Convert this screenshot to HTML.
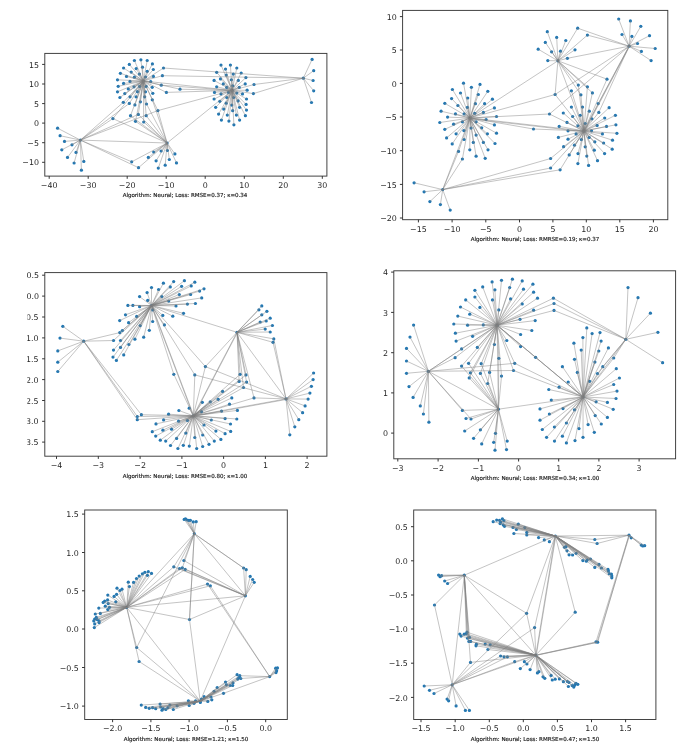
<!DOCTYPE html>
<html><head><meta charset="utf-8"><title>Graph layouts</title>
<style>html,body{margin:0;padding:0;background:#fff}body{width:685px;height:755px;overflow:hidden}</style></head>
<body>
<svg width="685" height="755" viewBox="0 0 685 755" style="display:block;font-family:'DejaVu Sans','Liberation Sans',sans-serif">
<rect width="685" height="755" fill="#fff"/>
<g id="p1">
<clipPath id="cp1"><rect x="44.8" y="53.4" width="282.10" height="122.70"/></clipPath>
<g clip-path="url(#cp1)">
<circle cx="134.4" cy="60.5" r="1.6" fill="#1f77b4"/>
<circle cx="140.9" cy="59.8" r="1.6" fill="#1f77b4"/>
<circle cx="147.2" cy="60.5" r="1.6" fill="#1f77b4"/>
<circle cx="152.4" cy="63.9" r="1.6" fill="#1f77b4"/>
<circle cx="129.3" cy="64.4" r="1.6" fill="#1f77b4"/>
<circle cx="123.6" cy="68.0" r="1.6" fill="#1f77b4"/>
<circle cx="120.4" cy="73.3" r="1.6" fill="#1f77b4"/>
<circle cx="117.5" cy="79.8" r="1.6" fill="#1f77b4"/>
<circle cx="118.2" cy="86.3" r="1.6" fill="#1f77b4"/>
<circle cx="117.5" cy="91.8" r="1.6" fill="#1f77b4"/>
<circle cx="119.9" cy="97.5" r="1.6" fill="#1f77b4"/>
<circle cx="123.3" cy="102.3" r="1.6" fill="#1f77b4"/>
<circle cx="129.3" cy="103.4" r="1.6" fill="#1f77b4"/>
<circle cx="134.9" cy="104.9" r="1.6" fill="#1f77b4"/>
<circle cx="140.4" cy="101.8" r="1.6" fill="#1f77b4"/>
<circle cx="146.5" cy="104.0" r="1.6" fill="#1f77b4"/>
<circle cx="152.3" cy="99.8" r="1.6" fill="#1f77b4"/>
<circle cx="152.8" cy="93.3" r="1.6" fill="#1f77b4"/>
<circle cx="152.2" cy="87.3" r="1.6" fill="#1f77b4"/>
<circle cx="150.7" cy="81.6" r="1.6" fill="#1f77b4"/>
<circle cx="153.4" cy="76.4" r="1.6" fill="#1f77b4"/>
<circle cx="153.3" cy="69.5" r="1.6" fill="#1f77b4"/>
<circle cx="136.2" cy="68.6" r="1.6" fill="#1f77b4"/>
<circle cx="142.5" cy="67.2" r="1.6" fill="#1f77b4"/>
<circle cx="147.2" cy="71.3" r="1.6" fill="#1f77b4"/>
<circle cx="131.2" cy="72.1" r="1.6" fill="#1f77b4"/>
<circle cx="126.5" cy="76.4" r="1.6" fill="#1f77b4"/>
<circle cx="123.6" cy="83.4" r="1.6" fill="#1f77b4"/>
<circle cx="128.3" cy="88.9" r="1.6" fill="#1f77b4"/>
<circle cx="124.8" cy="93.6" r="1.6" fill="#1f77b4"/>
<circle cx="130.0" cy="96.8" r="1.6" fill="#1f77b4"/>
<circle cx="136.1" cy="96.8" r="1.6" fill="#1f77b4"/>
<circle cx="144.7" cy="96.8" r="1.6" fill="#1f77b4"/>
<circle cx="145.5" cy="91.8" r="1.6" fill="#1f77b4"/>
<circle cx="137.4" cy="91.7" r="1.6" fill="#1f77b4"/>
<circle cx="134.0" cy="86.8" r="1.6" fill="#1f77b4"/>
<circle cx="130.0" cy="81.4" r="1.6" fill="#1f77b4"/>
<circle cx="134.4" cy="77.2" r="1.6" fill="#1f77b4"/>
<circle cx="139.5" cy="74.1" r="1.6" fill="#1f77b4"/>
<circle cx="145.5" cy="77.0" r="1.6" fill="#1f77b4"/>
<circle cx="146.2" cy="86.4" r="1.6" fill="#1f77b4"/>
<circle cx="139.6" cy="86.4" r="1.6" fill="#1f77b4"/>
<circle cx="163.5" cy="68.0" r="1.6" fill="#1f77b4"/>
<circle cx="162.4" cy="75.7" r="1.6" fill="#1f77b4"/>
<circle cx="161.3" cy="85.2" r="1.6" fill="#1f77b4"/>
<circle cx="166.4" cy="92.4" r="1.6" fill="#1f77b4"/>
<circle cx="180.0" cy="89.2" r="1.6" fill="#1f77b4"/>
<circle cx="157.9" cy="110.6" r="1.6" fill="#1f77b4"/>
<circle cx="221.0" cy="65.1" r="1.6" fill="#1f77b4"/>
<circle cx="230.4" cy="65.1" r="1.6" fill="#1f77b4"/>
<circle cx="236.8" cy="68.0" r="1.6" fill="#1f77b4"/>
<circle cx="225.5" cy="69.1" r="1.6" fill="#1f77b4"/>
<circle cx="216.7" cy="72.3" r="1.6" fill="#1f77b4"/>
<circle cx="241.2" cy="73.0" r="1.6" fill="#1f77b4"/>
<circle cx="233.3" cy="74.1" r="1.6" fill="#1f77b4"/>
<circle cx="226.2" cy="75.1" r="1.6" fill="#1f77b4"/>
<circle cx="245.9" cy="77.6" r="1.6" fill="#1f77b4"/>
<circle cx="220.5" cy="78.9" r="1.6" fill="#1f77b4"/>
<circle cx="214.1" cy="80.4" r="1.6" fill="#1f77b4"/>
<circle cx="231.4" cy="79.8" r="1.6" fill="#1f77b4"/>
<circle cx="238.3" cy="80.4" r="1.6" fill="#1f77b4"/>
<circle cx="223.3" cy="83.9" r="1.6" fill="#1f77b4"/>
<circle cx="245.2" cy="83.9" r="1.6" fill="#1f77b4"/>
<circle cx="232.7" cy="85.8" r="1.6" fill="#1f77b4"/>
<circle cx="216.7" cy="86.8" r="1.6" fill="#1f77b4"/>
<circle cx="226.7" cy="87.4" r="1.6" fill="#1f77b4"/>
<circle cx="239.2" cy="87.4" r="1.6" fill="#1f77b4"/>
<circle cx="247.1" cy="90.2" r="1.6" fill="#1f77b4"/>
<circle cx="214.5" cy="92.4" r="1.6" fill="#1f77b4"/>
<circle cx="221.0" cy="93.9" r="1.6" fill="#1f77b4"/>
<circle cx="228.5" cy="92.4" r="1.6" fill="#1f77b4"/>
<circle cx="236.8" cy="93.1" r="1.6" fill="#1f77b4"/>
<circle cx="242.5" cy="93.9" r="1.6" fill="#1f77b4"/>
<circle cx="254.0" cy="84.5" r="1.6" fill="#1f77b4"/>
<circle cx="253.4" cy="93.6" r="1.6" fill="#1f77b4"/>
<circle cx="214.1" cy="99.0" r="1.6" fill="#1f77b4"/>
<circle cx="226.8" cy="97.5" r="1.6" fill="#1f77b4"/>
<circle cx="233.6" cy="97.5" r="1.6" fill="#1f77b4"/>
<circle cx="246.5" cy="99.0" r="1.6" fill="#1f77b4"/>
<circle cx="219.8" cy="101.3" r="1.6" fill="#1f77b4"/>
<circle cx="238.1" cy="100.9" r="1.6" fill="#1f77b4"/>
<circle cx="246.1" cy="104.4" r="1.6" fill="#1f77b4"/>
<circle cx="226.2" cy="103.2" r="1.6" fill="#1f77b4"/>
<circle cx="231.8" cy="105.1" r="1.6" fill="#1f77b4"/>
<circle cx="215.7" cy="107.3" r="1.6" fill="#1f77b4"/>
<circle cx="239.6" cy="107.3" r="1.6" fill="#1f77b4"/>
<circle cx="223.7" cy="109.1" r="1.6" fill="#1f77b4"/>
<circle cx="232.7" cy="110.7" r="1.6" fill="#1f77b4"/>
<circle cx="246.5" cy="110.1" r="1.6" fill="#1f77b4"/>
<circle cx="218.6" cy="114.1" r="1.6" fill="#1f77b4"/>
<circle cx="227.3" cy="115.1" r="1.6" fill="#1f77b4"/>
<circle cx="236.4" cy="115.1" r="1.6" fill="#1f77b4"/>
<circle cx="245.4" cy="115.7" r="1.6" fill="#1f77b4"/>
<circle cx="221.4" cy="120.1" r="1.6" fill="#1f77b4"/>
<circle cx="228.9" cy="121.1" r="1.6" fill="#1f77b4"/>
<circle cx="239.6" cy="120.1" r="1.6" fill="#1f77b4"/>
<circle cx="233.9" cy="124.8" r="1.6" fill="#1f77b4"/>
<circle cx="312.1" cy="59.4" r="1.6" fill="#1f77b4"/>
<circle cx="313.7" cy="70.7" r="1.6" fill="#1f77b4"/>
<circle cx="313.1" cy="80.5" r="1.6" fill="#1f77b4"/>
<circle cx="313.7" cy="90.8" r="1.6" fill="#1f77b4"/>
<circle cx="311.5" cy="102.5" r="1.6" fill="#1f77b4"/>
<circle cx="57.6" cy="128.2" r="1.6" fill="#1f77b4"/>
<circle cx="60.1" cy="135.7" r="1.6" fill="#1f77b4"/>
<circle cx="64.5" cy="141.4" r="1.6" fill="#1f77b4"/>
<circle cx="72.0" cy="144.8" r="1.6" fill="#1f77b4"/>
<circle cx="61.8" cy="149.8" r="1.6" fill="#1f77b4"/>
<circle cx="76.0" cy="152.4" r="1.6" fill="#1f77b4"/>
<circle cx="67.5" cy="157.4" r="1.6" fill="#1f77b4"/>
<circle cx="74.1" cy="163.0" r="1.6" fill="#1f77b4"/>
<circle cx="83.8" cy="161.4" r="1.6" fill="#1f77b4"/>
<circle cx="81.4" cy="170.2" r="1.6" fill="#1f77b4"/>
<circle cx="112.9" cy="118.6" r="1.6" fill="#1f77b4"/>
<circle cx="138.3" cy="114.4" r="1.6" fill="#1f77b4"/>
<circle cx="130.5" cy="115.7" r="1.6" fill="#1f77b4"/>
<circle cx="146.2" cy="115.7" r="1.6" fill="#1f77b4"/>
<circle cx="135.5" cy="121.3" r="1.6" fill="#1f77b4"/>
<circle cx="143.7" cy="122.0" r="1.6" fill="#1f77b4"/>
<circle cx="153.7" cy="152.0" r="1.6" fill="#1f77b4"/>
<circle cx="161.1" cy="151.0" r="1.6" fill="#1f77b4"/>
<circle cx="167.4" cy="150.5" r="1.6" fill="#1f77b4"/>
<circle cx="174.9" cy="153.9" r="1.6" fill="#1f77b4"/>
<circle cx="148.3" cy="157.4" r="1.6" fill="#1f77b4"/>
<circle cx="156.1" cy="160.8" r="1.6" fill="#1f77b4"/>
<circle cx="169.3" cy="159.5" r="1.6" fill="#1f77b4"/>
<circle cx="176.5" cy="162.9" r="1.6" fill="#1f77b4"/>
<circle cx="165.2" cy="165.2" r="1.6" fill="#1f77b4"/>
<circle cx="158.3" cy="168.1" r="1.6" fill="#1f77b4"/>
<circle cx="131.7" cy="161.8" r="1.6" fill="#1f77b4"/>
<circle cx="138.5" cy="167.7" r="1.6" fill="#1f77b4"/>
<circle cx="143.4" cy="81.0" r="1.6" fill="#1f77b4"/>
<circle cx="232.1" cy="90.4" r="1.6" fill="#1f77b4"/>
<circle cx="303.3" cy="78.2" r="1.6" fill="#1f77b4"/>
<circle cx="80.4" cy="140.1" r="1.6" fill="#1f77b4"/>
<circle cx="167.1" cy="143.0" r="1.6" fill="#1f77b4"/>
<path d="M143.4 81.0L134.4 60.5M143.4 81.0L140.9 59.8M143.4 81.0L147.2 60.5M143.4 81.0L152.4 63.9M143.4 81.0L129.3 64.4M143.4 81.0L123.6 68.0M143.4 81.0L120.4 73.3M143.4 81.0L117.5 79.8M143.4 81.0L118.2 86.3M143.4 81.0L117.5 91.8M143.4 81.0L119.9 97.5M143.4 81.0L123.3 102.3M143.4 81.0L129.3 103.4M143.4 81.0L134.9 104.9M143.4 81.0L140.4 101.8M143.4 81.0L146.5 104.0M143.4 81.0L152.3 99.8M143.4 81.0L152.8 93.3M143.4 81.0L152.2 87.3M143.4 81.0L150.7 81.6M143.4 81.0L153.4 76.4M143.4 81.0L153.3 69.5M143.4 81.0L136.2 68.6M143.4 81.0L142.5 67.2M143.4 81.0L147.2 71.3M143.4 81.0L131.2 72.1M143.4 81.0L126.5 76.4M143.4 81.0L123.6 83.4M143.4 81.0L128.3 88.9M143.4 81.0L124.8 93.6M143.4 81.0L130.0 96.8M143.4 81.0L136.1 96.8M143.4 81.0L144.7 96.8M143.4 81.0L145.5 91.8M143.4 81.0L137.4 91.7M143.4 81.0L134.0 86.8M143.4 81.0L130.0 81.4M143.4 81.0L134.4 77.2M143.4 81.0L139.5 74.1M143.4 81.0L145.5 77.0M143.4 81.0L146.2 86.4M143.4 81.0L139.6 86.4M143.4 81.0L163.5 68.0M303.3 78.2L163.5 68.0M143.4 81.0L162.4 75.7M303.3 78.2L162.4 75.7M143.4 81.0L161.3 85.2M232.1 90.4L161.3 85.2M143.4 81.0L166.4 92.4M232.1 90.4L166.4 92.4M143.4 81.0L180.0 89.2M232.1 90.4L180.0 89.2M143.4 81.0L157.9 110.6M232.1 90.4L157.9 110.6M80.4 140.1L157.9 110.6M167.1 143.0L157.9 110.6M232.1 90.4L221.0 65.1M232.1 90.4L230.4 65.1M232.1 90.4L236.8 68.0M232.1 90.4L225.5 69.1M232.1 90.4L216.7 72.3M232.1 90.4L241.2 73.0M232.1 90.4L233.3 74.1M232.1 90.4L226.2 75.1M232.1 90.4L245.9 77.6M232.1 90.4L220.5 78.9M232.1 90.4L214.1 80.4M232.1 90.4L231.4 79.8M232.1 90.4L238.3 80.4M232.1 90.4L223.3 83.9M232.1 90.4L245.2 83.9M232.1 90.4L232.7 85.8M232.1 90.4L216.7 86.8M232.1 90.4L226.7 87.4M232.1 90.4L239.2 87.4M232.1 90.4L247.1 90.2M232.1 90.4L214.5 92.4M232.1 90.4L221.0 93.9M232.1 90.4L228.5 92.4M232.1 90.4L236.8 93.1M232.1 90.4L242.5 93.9M232.1 90.4L254.0 84.5M303.3 78.2L254.0 84.5M232.1 90.4L253.4 93.6M303.3 78.2L253.4 93.6M232.1 90.4L214.1 99.0M232.1 90.4L226.8 97.5M232.1 90.4L233.6 97.5M232.1 90.4L246.5 99.0M232.1 90.4L219.8 101.3M232.1 90.4L238.1 100.9M232.1 90.4L246.1 104.4M232.1 90.4L226.2 103.2M232.1 90.4L231.8 105.1M232.1 90.4L215.7 107.3M232.1 90.4L239.6 107.3M232.1 90.4L223.7 109.1M232.1 90.4L232.7 110.7M232.1 90.4L246.5 110.1M232.1 90.4L218.6 114.1M232.1 90.4L227.3 115.1M232.1 90.4L236.4 115.1M232.1 90.4L245.4 115.7M232.1 90.4L221.4 120.1M232.1 90.4L228.9 121.1M232.1 90.4L239.6 120.1M232.1 90.4L233.9 124.8M303.3 78.2L312.1 59.4M303.3 78.2L313.7 70.7M303.3 78.2L313.1 80.5M303.3 78.2L313.7 90.8M303.3 78.2L311.5 102.5M80.4 140.1L57.6 128.2M80.4 140.1L60.1 135.7M80.4 140.1L64.5 141.4M80.4 140.1L72.0 144.8M80.4 140.1L61.8 149.8M80.4 140.1L76.0 152.4M80.4 140.1L67.5 157.4M80.4 140.1L74.1 163.0M80.4 140.1L83.8 161.4M80.4 140.1L81.4 170.2M143.4 81.0L112.9 118.6M80.4 140.1L112.9 118.6M167.1 143.0L112.9 118.6M143.4 81.0L138.3 114.4M80.4 140.1L138.3 114.4M167.1 143.0L138.3 114.4M143.4 81.0L130.5 115.7M167.1 143.0L130.5 115.7M143.4 81.0L146.2 115.7M167.1 143.0L146.2 115.7M143.4 81.0L135.5 121.3M167.1 143.0L135.5 121.3M143.4 81.0L143.7 122.0M167.1 143.0L143.7 122.0M167.1 143.0L153.7 152.0M167.1 143.0L161.1 151.0M167.1 143.0L167.4 150.5M167.1 143.0L174.9 153.9M167.1 143.0L148.3 157.4M167.1 143.0L156.1 160.8M167.1 143.0L169.3 159.5M167.1 143.0L176.5 162.9M167.1 143.0L165.2 165.2M167.1 143.0L158.3 168.1M80.4 140.1L131.7 161.8M167.1 143.0L131.7 161.8M80.4 140.1L138.5 167.7M167.1 143.0L138.5 167.7M80.4 140.1L167.1 143.0M167.1 143.0L232.1 90.4M143.4 81.0L232.1 90.4M80.4 140.1L129.3 103.4M80.4 140.1L123.3 102.3M167.1 143.0L146.5 104.0M167.1 143.0L152.3 99.8" fill="none" stroke="#7f7f7f" stroke-width="0.55" stroke-opacity="0.85"/>
</g>
<rect x="44.8" y="53.4" width="282.10" height="122.70" fill="none" stroke="#3a3a3a" stroke-width="0.95"/>
<path d="M49.2 176.1v2.7M88.2 176.1v2.7M127.2 176.1v2.7M166.2 176.1v2.7M205.2 176.1v2.7M244.3 176.1v2.7M283.3 176.1v2.7M322.3 176.1v2.7M44.8 64.4h-2.7M44.8 84h-2.7M44.8 103.6h-2.7M44.8 123.1h-2.7M44.8 142.7h-2.7M44.8 162.3h-2.7" stroke="#2a2a2a" stroke-width="0.95" fill="none"/>
<g fill="#262626" font-size="7.9">
<text x="49.2" y="187.9" text-anchor="middle">−40</text>
<text x="88.2" y="187.9" text-anchor="middle">−30</text>
<text x="127.2" y="187.9" text-anchor="middle">−20</text>
<text x="166.2" y="187.9" text-anchor="middle">−10</text>
<text x="205.2" y="187.9" text-anchor="middle">0</text>
<text x="244.3" y="187.9" text-anchor="middle">10</text>
<text x="283.3" y="187.9" text-anchor="middle">20</text>
<text x="322.3" y="187.9" text-anchor="middle">30</text>
<text x="39.0" y="67.5" text-anchor="end">15</text>
<text x="39.0" y="87.1" text-anchor="end">10</text>
<text x="39.0" y="106.7" text-anchor="end">5</text>
<text x="39.0" y="126.2" text-anchor="end">0</text>
<text x="39.0" y="145.8" text-anchor="end">−5</text>
<text x="39.0" y="165.4" text-anchor="end">−10</text>
</g>
<text x="185" y="196.8" text-anchor="middle" font-size="5.54" fill="#262626" stroke="#262626" stroke-width="0.18">Algorithm: Neural; Loss: RMSE=0.37; κ=0.34</text>
</g>
<g id="p2">
<clipPath id="cp2"><rect x="402.6" y="10.4" width="265.20" height="209.30"/></clipPath>
<g clip-path="url(#cp2)">
<circle cx="463.5" cy="83.2" r="1.6" fill="#1f77b4"/>
<circle cx="480.0" cy="84.4" r="1.6" fill="#1f77b4"/>
<circle cx="471.4" cy="87.3" r="1.6" fill="#1f77b4"/>
<circle cx="452.4" cy="89.5" r="1.6" fill="#1f77b4"/>
<circle cx="487.8" cy="91.3" r="1.6" fill="#1f77b4"/>
<circle cx="460.5" cy="93.0" r="1.6" fill="#1f77b4"/>
<circle cx="478.3" cy="94.5" r="1.6" fill="#1f77b4"/>
<circle cx="451.6" cy="98.6" r="1.6" fill="#1f77b4"/>
<circle cx="467.7" cy="98.0" r="1.6" fill="#1f77b4"/>
<circle cx="492.4" cy="99.2" r="1.6" fill="#1f77b4"/>
<circle cx="444.8" cy="103.3" r="1.6" fill="#1f77b4"/>
<circle cx="475.4" cy="103.7" r="1.6" fill="#1f77b4"/>
<circle cx="484.6" cy="103.7" r="1.6" fill="#1f77b4"/>
<circle cx="457.9" cy="105.5" r="1.6" fill="#1f77b4"/>
<circle cx="467.4" cy="107.4" r="1.6" fill="#1f77b4"/>
<circle cx="494.4" cy="107.9" r="1.6" fill="#1f77b4"/>
<circle cx="441.1" cy="111.2" r="1.6" fill="#1f77b4"/>
<circle cx="455.5" cy="113.9" r="1.6" fill="#1f77b4"/>
<circle cx="464.1" cy="113.9" r="1.6" fill="#1f77b4"/>
<circle cx="474.8" cy="113.3" r="1.6" fill="#1f77b4"/>
<circle cx="483.4" cy="112.4" r="1.6" fill="#1f77b4"/>
<circle cx="447.6" cy="117.1" r="1.6" fill="#1f77b4"/>
<circle cx="496.5" cy="116.5" r="1.6" fill="#1f77b4"/>
<circle cx="486.1" cy="119.6" r="1.6" fill="#1f77b4"/>
<circle cx="439.8" cy="122.5" r="1.6" fill="#1f77b4"/>
<circle cx="462.4" cy="121.8" r="1.6" fill="#1f77b4"/>
<circle cx="476.1" cy="121.8" r="1.6" fill="#1f77b4"/>
<circle cx="453.6" cy="124.2" r="1.6" fill="#1f77b4"/>
<circle cx="494.4" cy="124.9" r="1.6" fill="#1f77b4"/>
<circle cx="444.8" cy="129.3" r="1.6" fill="#1f77b4"/>
<circle cx="471.1" cy="128.1" r="1.6" fill="#1f77b4"/>
<circle cx="481.7" cy="127.8" r="1.6" fill="#1f77b4"/>
<circle cx="463.9" cy="130.6" r="1.6" fill="#1f77b4"/>
<circle cx="456.1" cy="133.8" r="1.6" fill="#1f77b4"/>
<circle cx="487.4" cy="133.8" r="1.6" fill="#1f77b4"/>
<circle cx="496.5" cy="133.2" r="1.6" fill="#1f77b4"/>
<circle cx="476.1" cy="135.1" r="1.6" fill="#1f77b4"/>
<circle cx="446.6" cy="137.9" r="1.6" fill="#1f77b4"/>
<circle cx="464.1" cy="139.5" r="1.6" fill="#1f77b4"/>
<circle cx="473.3" cy="142.4" r="1.6" fill="#1f77b4"/>
<circle cx="483.4" cy="142.4" r="1.6" fill="#1f77b4"/>
<circle cx="495.0" cy="143.5" r="1.6" fill="#1f77b4"/>
<circle cx="452.2" cy="143.9" r="1.6" fill="#1f77b4"/>
<circle cx="469.8" cy="149.8" r="1.6" fill="#1f77b4"/>
<circle cx="488.0" cy="149.8" r="1.6" fill="#1f77b4"/>
<circle cx="476.1" cy="156.2" r="1.6" fill="#1f77b4"/>
<circle cx="485.2" cy="158.3" r="1.6" fill="#1f77b4"/>
<circle cx="458.5" cy="151.4" r="1.6" fill="#1f77b4"/>
<circle cx="462.4" cy="159.0" r="1.6" fill="#1f77b4"/>
<circle cx="547.3" cy="31.7" r="1.6" fill="#1f77b4"/>
<circle cx="556.7" cy="37.4" r="1.6" fill="#1f77b4"/>
<circle cx="565.8" cy="40.5" r="1.6" fill="#1f77b4"/>
<circle cx="545.3" cy="42.4" r="1.6" fill="#1f77b4"/>
<circle cx="538.2" cy="49.2" r="1.6" fill="#1f77b4"/>
<circle cx="551.6" cy="51.8" r="1.6" fill="#1f77b4"/>
<circle cx="560.5" cy="51.2" r="1.6" fill="#1f77b4"/>
<circle cx="575.0" cy="49.8" r="1.6" fill="#1f77b4"/>
<circle cx="547.8" cy="60.6" r="1.6" fill="#1f77b4"/>
<circle cx="567.4" cy="58.3" r="1.6" fill="#1f77b4"/>
<circle cx="577.7" cy="28.2" r="1.6" fill="#1f77b4"/>
<circle cx="587.4" cy="35.1" r="1.6" fill="#1f77b4"/>
<circle cx="618.7" cy="19.0" r="1.6" fill="#1f77b4"/>
<circle cx="630.4" cy="20.9" r="1.6" fill="#1f77b4"/>
<circle cx="640.8" cy="26.3" r="1.6" fill="#1f77b4"/>
<circle cx="622.0" cy="34.5" r="1.6" fill="#1f77b4"/>
<circle cx="631.9" cy="36.4" r="1.6" fill="#1f77b4"/>
<circle cx="649.5" cy="35.7" r="1.6" fill="#1f77b4"/>
<circle cx="637.5" cy="43.5" r="1.6" fill="#1f77b4"/>
<circle cx="655.2" cy="48.5" r="1.6" fill="#1f77b4"/>
<circle cx="641.4" cy="51.4" r="1.6" fill="#1f77b4"/>
<circle cx="651.1" cy="60.6" r="1.6" fill="#1f77b4"/>
<circle cx="555.1" cy="94.5" r="1.6" fill="#1f77b4"/>
<circle cx="549.5" cy="114.0" r="1.6" fill="#1f77b4"/>
<circle cx="607.0" cy="79.2" r="1.6" fill="#1f77b4"/>
<circle cx="578.3" cy="85.1" r="1.6" fill="#1f77b4"/>
<circle cx="587.4" cy="86.8" r="1.6" fill="#1f77b4"/>
<circle cx="592.4" cy="92.9" r="1.6" fill="#1f77b4"/>
<circle cx="580.9" cy="94.8" r="1.6" fill="#1f77b4"/>
<circle cx="571.4" cy="90.8" r="1.6" fill="#1f77b4"/>
<circle cx="571.4" cy="107.1" r="1.6" fill="#1f77b4"/>
<circle cx="582.5" cy="107.1" r="1.6" fill="#1f77b4"/>
<circle cx="609.1" cy="107.7" r="1.6" fill="#1f77b4"/>
<circle cx="589.3" cy="111.2" r="1.6" fill="#1f77b4"/>
<circle cx="563.3" cy="113.0" r="1.6" fill="#1f77b4"/>
<circle cx="572.7" cy="116.5" r="1.6" fill="#1f77b4"/>
<circle cx="580.2" cy="115.3" r="1.6" fill="#1f77b4"/>
<circle cx="615.4" cy="115.3" r="1.6" fill="#1f77b4"/>
<circle cx="598.2" cy="103.6" r="1.6" fill="#1f77b4"/>
<circle cx="598.8" cy="112.4" r="1.6" fill="#1f77b4"/>
<circle cx="591.9" cy="118.8" r="1.6" fill="#1f77b4"/>
<circle cx="604.7" cy="118.0" r="1.6" fill="#1f77b4"/>
<circle cx="567.0" cy="122.4" r="1.6" fill="#1f77b4"/>
<circle cx="585.2" cy="123.5" r="1.6" fill="#1f77b4"/>
<circle cx="615.9" cy="124.8" r="1.6" fill="#1f77b4"/>
<circle cx="559.2" cy="126.4" r="1.6" fill="#1f77b4"/>
<circle cx="577.9" cy="125.8" r="1.6" fill="#1f77b4"/>
<circle cx="597.1" cy="125.4" r="1.6" fill="#1f77b4"/>
<circle cx="606.5" cy="126.4" r="1.6" fill="#1f77b4"/>
<circle cx="568.0" cy="130.8" r="1.6" fill="#1f77b4"/>
<circle cx="591.5" cy="130.8" r="1.6" fill="#1f77b4"/>
<circle cx="616.9" cy="133.3" r="1.6" fill="#1f77b4"/>
<circle cx="576.1" cy="133.9" r="1.6" fill="#1f77b4"/>
<circle cx="602.4" cy="133.9" r="1.6" fill="#1f77b4"/>
<circle cx="558.4" cy="137.4" r="1.6" fill="#1f77b4"/>
<circle cx="589.2" cy="137.4" r="1.6" fill="#1f77b4"/>
<circle cx="568.0" cy="139.2" r="1.6" fill="#1f77b4"/>
<circle cx="581.4" cy="139.6" r="1.6" fill="#1f77b4"/>
<circle cx="612.5" cy="140.2" r="1.6" fill="#1f77b4"/>
<circle cx="594.8" cy="141.8" r="1.6" fill="#1f77b4"/>
<circle cx="603.6" cy="143.0" r="1.6" fill="#1f77b4"/>
<circle cx="574.5" cy="145.2" r="1.6" fill="#1f77b4"/>
<circle cx="563.6" cy="146.7" r="1.6" fill="#1f77b4"/>
<circle cx="585.2" cy="146.8" r="1.6" fill="#1f77b4"/>
<circle cx="612.2" cy="149.2" r="1.6" fill="#1f77b4"/>
<circle cx="594.3" cy="150.2" r="1.6" fill="#1f77b4"/>
<circle cx="578.0" cy="153.6" r="1.6" fill="#1f77b4"/>
<circle cx="604.6" cy="153.6" r="1.6" fill="#1f77b4"/>
<circle cx="569.2" cy="154.9" r="1.6" fill="#1f77b4"/>
<circle cx="586.8" cy="156.1" r="1.6" fill="#1f77b4"/>
<circle cx="597.5" cy="160.7" r="1.6" fill="#1f77b4"/>
<circle cx="577.9" cy="163.6" r="1.6" fill="#1f77b4"/>
<circle cx="588.6" cy="165.4" r="1.6" fill="#1f77b4"/>
<circle cx="550.6" cy="158.5" r="1.6" fill="#1f77b4"/>
<circle cx="550.6" cy="168.0" r="1.6" fill="#1f77b4"/>
<circle cx="560.1" cy="169.8" r="1.6" fill="#1f77b4"/>
<circle cx="414.1" cy="182.8" r="1.6" fill="#1f77b4"/>
<circle cx="424.1" cy="191.8" r="1.6" fill="#1f77b4"/>
<circle cx="429.9" cy="201.6" r="1.6" fill="#1f77b4"/>
<circle cx="440.4" cy="204.6" r="1.6" fill="#1f77b4"/>
<circle cx="450.2" cy="210.1" r="1.6" fill="#1f77b4"/>
<circle cx="533.5" cy="129.0" r="1.6" fill="#1f77b4"/>
<circle cx="469.9" cy="118.0" r="1.6" fill="#1f77b4"/>
<circle cx="557.9" cy="60.8" r="1.6" fill="#1f77b4"/>
<circle cx="629.1" cy="46.2" r="1.6" fill="#1f77b4"/>
<circle cx="442.7" cy="189.6" r="1.6" fill="#1f77b4"/>
<circle cx="583.9" cy="131.0" r="1.6" fill="#1f77b4"/>
<path d="M469.9 118.0L463.5 83.2M469.9 118.0L480.0 84.4M469.9 118.0L471.4 87.3M469.9 118.0L452.4 89.5M469.9 118.0L487.8 91.3M469.9 118.0L460.5 93.0M469.9 118.0L478.3 94.5M469.9 118.0L451.6 98.6M469.9 118.0L467.7 98.0M469.9 118.0L492.4 99.2M469.9 118.0L444.8 103.3M469.9 118.0L475.4 103.7M469.9 118.0L484.6 103.7M469.9 118.0L457.9 105.5M469.9 118.0L467.4 107.4M469.9 118.0L494.4 107.9M469.9 118.0L441.1 111.2M469.9 118.0L455.5 113.9M469.9 118.0L464.1 113.9M469.9 118.0L474.8 113.3M469.9 118.0L483.4 112.4M469.9 118.0L447.6 117.1M469.9 118.0L496.5 116.5M469.9 118.0L486.1 119.6M469.9 118.0L439.8 122.5M469.9 118.0L462.4 121.8M469.9 118.0L476.1 121.8M469.9 118.0L453.6 124.2M469.9 118.0L494.4 124.9M469.9 118.0L444.8 129.3M469.9 118.0L471.1 128.1M469.9 118.0L481.7 127.8M469.9 118.0L463.9 130.6M469.9 118.0L456.1 133.8M469.9 118.0L487.4 133.8M469.9 118.0L496.5 133.2M469.9 118.0L476.1 135.1M469.9 118.0L446.6 137.9M469.9 118.0L464.1 139.5M469.9 118.0L473.3 142.4M469.9 118.0L483.4 142.4M469.9 118.0L495.0 143.5M469.9 118.0L452.2 143.9M469.9 118.0L469.8 149.8M469.9 118.0L488.0 149.8M469.9 118.0L476.1 156.2M469.9 118.0L485.2 158.3M469.9 118.0L458.5 151.4M442.7 189.6L458.5 151.4M469.9 118.0L462.4 159.0M442.7 189.6L462.4 159.0M557.9 60.8L547.3 31.7M557.9 60.8L556.7 37.4M557.9 60.8L565.8 40.5M557.9 60.8L545.3 42.4M557.9 60.8L538.2 49.2M557.9 60.8L551.6 51.8M557.9 60.8L560.5 51.2M557.9 60.8L575.0 49.8M557.9 60.8L547.8 60.6M557.9 60.8L567.4 58.3M629.1 46.2L567.4 58.3M557.9 60.8L577.7 28.2M629.1 46.2L577.7 28.2M557.9 60.8L587.4 35.1M629.1 46.2L587.4 35.1M629.1 46.2L618.7 19.0M629.1 46.2L630.4 20.9M629.1 46.2L640.8 26.3M629.1 46.2L622.0 34.5M629.1 46.2L631.9 36.4M629.1 46.2L649.5 35.7M629.1 46.2L637.5 43.5M629.1 46.2L655.2 48.5M629.1 46.2L641.4 51.4M629.1 46.2L651.1 60.6M469.9 118.0L555.1 94.5M557.9 60.8L555.1 94.5M629.1 46.2L555.1 94.5M583.9 131.0L555.1 94.5M469.9 118.0L549.5 114.0M629.1 46.2L549.5 114.0M583.9 131.0L549.5 114.0M557.9 60.8L607.0 79.2M583.9 131.0L607.0 79.2M557.9 60.8L578.3 85.1M583.9 131.0L578.3 85.1M557.9 60.8L587.4 86.8M583.9 131.0L587.4 86.8M557.9 60.8L592.4 92.9M583.9 131.0L592.4 92.9M557.9 60.8L580.9 94.8M583.9 131.0L580.9 94.8M583.9 131.0L571.4 90.8M583.9 131.0L571.4 107.1M583.9 131.0L582.5 107.1M583.9 131.0L609.1 107.7M583.9 131.0L589.3 111.2M583.9 131.0L563.3 113.0M583.9 131.0L572.7 116.5M583.9 131.0L580.2 115.3M583.9 131.0L615.4 115.3M629.1 46.2L598.2 103.6M583.9 131.0L598.2 103.6M629.1 46.2L598.8 112.4M583.9 131.0L598.8 112.4M583.9 131.0L591.9 118.8M583.9 131.0L604.7 118.0M583.9 131.0L567.0 122.4M583.9 131.0L585.2 123.5M583.9 131.0L615.9 124.8M583.9 131.0L559.2 126.4M583.9 131.0L577.9 125.8M583.9 131.0L597.1 125.4M583.9 131.0L606.5 126.4M583.9 131.0L568.0 130.8M583.9 131.0L591.5 130.8M583.9 131.0L616.9 133.3M583.9 131.0L576.1 133.9M583.9 131.0L602.4 133.9M583.9 131.0L558.4 137.4M583.9 131.0L589.2 137.4M583.9 131.0L568.0 139.2M583.9 131.0L581.4 139.6M583.9 131.0L612.5 140.2M583.9 131.0L594.8 141.8M583.9 131.0L603.6 143.0M583.9 131.0L574.5 145.2M583.9 131.0L563.6 146.7M583.9 131.0L585.2 146.8M583.9 131.0L612.2 149.2M583.9 131.0L594.3 150.2M583.9 131.0L578.0 153.6M583.9 131.0L604.6 153.6M583.9 131.0L569.2 154.9M583.9 131.0L586.8 156.1M583.9 131.0L597.5 160.7M583.9 131.0L577.9 163.6M583.9 131.0L588.6 165.4M442.7 189.6L550.6 158.5M583.9 131.0L550.6 158.5M442.7 189.6L550.6 168.0M583.9 131.0L550.6 168.0M442.7 189.6L560.1 169.8M583.9 131.0L560.1 169.8M442.7 189.6L414.1 182.8M442.7 189.6L424.1 191.8M442.7 189.6L429.9 201.6M442.7 189.6L440.4 204.6M442.7 189.6L450.2 210.1M469.9 118.0L533.5 129.0M583.9 131.0L533.5 129.0M469.9 118.0L583.9 131.0M469.9 118.0L557.9 60.8M469.9 118.0L442.7 189.6M629.1 46.2L583.9 131.0M557.9 60.8L583.9 131.0M470.5 118.8L584.5 131.8M629.6 46.2L584.6 131.0" fill="none" stroke="#7f7f7f" stroke-width="0.55" stroke-opacity="0.85"/>
</g>
<rect x="402.6" y="10.4" width="265.20" height="209.30" fill="none" stroke="#3a3a3a" stroke-width="0.95"/>
<path d="M418.4 219.7v2.7M452.1 219.7v2.7M485.8 219.7v2.7M519.5 219.7v2.7M552.9 219.7v2.7M586.3 219.7v2.7M619.8 219.7v2.7M653.4 219.7v2.7M402.6 16.6h-2.7M402.6 50h-2.7M402.6 83.4h-2.7M402.6 117h-2.7M402.6 150.7h-2.7M402.6 184.4h-2.7M402.6 218h-2.7" stroke="#2a2a2a" stroke-width="0.95" fill="none"/>
<g fill="#262626" font-size="7.9">
<text x="418.4" y="231.5" text-anchor="middle">−15</text>
<text x="452.1" y="231.5" text-anchor="middle">−10</text>
<text x="485.8" y="231.5" text-anchor="middle">−5</text>
<text x="519.5" y="231.5" text-anchor="middle">0</text>
<text x="552.9" y="231.5" text-anchor="middle">5</text>
<text x="586.3" y="231.5" text-anchor="middle">10</text>
<text x="619.8" y="231.5" text-anchor="middle">15</text>
<text x="653.4" y="231.5" text-anchor="middle">20</text>
<text x="396.8" y="19.7" text-anchor="end">10</text>
<text x="396.8" y="53.1" text-anchor="end">5</text>
<text x="396.8" y="86.5" text-anchor="end">0</text>
<text x="396.8" y="120.1" text-anchor="end">−5</text>
<text x="396.8" y="153.8" text-anchor="end">−10</text>
<text x="396.8" y="187.5" text-anchor="end">−15</text>
<text x="396.8" y="221.1" text-anchor="end">−20</text>
</g>
<text x="535" y="240.7" text-anchor="middle" font-size="5.54" fill="#262626" stroke="#262626" stroke-width="0.18">Algorithm: Neural; Loss: RMRSE=0.19; κ=0.37</text>
</g>
<g id="p3">
<clipPath id="cp3"><rect x="44.8" y="272.6" width="282.10" height="183.60"/></clipPath>
<g clip-path="url(#cp3)">
<circle cx="184.4" cy="280.7" r="1.6" fill="#1f77b4"/>
<circle cx="173.7" cy="281.6" r="1.6" fill="#1f77b4"/>
<circle cx="163.4" cy="283.2" r="1.6" fill="#1f77b4"/>
<circle cx="181.6" cy="286.3" r="1.6" fill="#1f77b4"/>
<circle cx="170.3" cy="286.9" r="1.6" fill="#1f77b4"/>
<circle cx="151.5" cy="287.6" r="1.6" fill="#1f77b4"/>
<circle cx="158.6" cy="289.5" r="1.6" fill="#1f77b4"/>
<circle cx="147.1" cy="292.6" r="1.6" fill="#1f77b4"/>
<circle cx="179.3" cy="294.5" r="1.6" fill="#1f77b4"/>
<circle cx="139.6" cy="296.6" r="1.6" fill="#1f77b4"/>
<circle cx="161.8" cy="296.6" r="1.6" fill="#1f77b4"/>
<circle cx="147.7" cy="300.4" r="1.6" fill="#1f77b4"/>
<circle cx="168.7" cy="301.1" r="1.6" fill="#1f77b4"/>
<circle cx="127.9" cy="305.4" r="1.6" fill="#1f77b4"/>
<circle cx="132.9" cy="305.4" r="1.6" fill="#1f77b4"/>
<circle cx="139.6" cy="306.7" r="1.6" fill="#1f77b4"/>
<circle cx="176.0" cy="306.0" r="1.6" fill="#1f77b4"/>
<circle cx="152.7" cy="309.9" r="1.6" fill="#1f77b4"/>
<circle cx="183.5" cy="313.3" r="1.6" fill="#1f77b4"/>
<circle cx="125.5" cy="314.8" r="1.6" fill="#1f77b4"/>
<circle cx="162.8" cy="315.4" r="1.6" fill="#1f77b4"/>
<circle cx="172.8" cy="316.2" r="1.6" fill="#1f77b4"/>
<circle cx="136.7" cy="316.4" r="1.6" fill="#1f77b4"/>
<circle cx="119.7" cy="320.6" r="1.6" fill="#1f77b4"/>
<circle cx="152.7" cy="321.5" r="1.6" fill="#1f77b4"/>
<circle cx="128.6" cy="322.7" r="1.6" fill="#1f77b4"/>
<circle cx="164.4" cy="324.9" r="1.6" fill="#1f77b4"/>
<circle cx="140.2" cy="325.6" r="1.6" fill="#1f77b4"/>
<circle cx="122.3" cy="330.5" r="1.6" fill="#1f77b4"/>
<circle cx="149.3" cy="330.3" r="1.6" fill="#1f77b4"/>
<circle cx="119.8" cy="332.6" r="1.6" fill="#1f77b4"/>
<circle cx="113.5" cy="340.5" r="1.6" fill="#1f77b4"/>
<circle cx="143.7" cy="337.2" r="1.6" fill="#1f77b4"/>
<circle cx="134.9" cy="339.2" r="1.6" fill="#1f77b4"/>
<circle cx="120.5" cy="340.5" r="1.6" fill="#1f77b4"/>
<circle cx="128.9" cy="344.5" r="1.6" fill="#1f77b4"/>
<circle cx="120.5" cy="347.4" r="1.6" fill="#1f77b4"/>
<circle cx="113.5" cy="350.1" r="1.6" fill="#1f77b4"/>
<circle cx="123.7" cy="354.9" r="1.6" fill="#1f77b4"/>
<circle cx="113.0" cy="357.1" r="1.6" fill="#1f77b4"/>
<circle cx="116.4" cy="360.4" r="1.6" fill="#1f77b4"/>
<circle cx="194.8" cy="282.2" r="1.6" fill="#1f77b4"/>
<circle cx="191.2" cy="285.9" r="1.6" fill="#1f77b4"/>
<circle cx="204.0" cy="288.8" r="1.6" fill="#1f77b4"/>
<circle cx="199.6" cy="291.1" r="1.6" fill="#1f77b4"/>
<circle cx="190.6" cy="294.5" r="1.6" fill="#1f77b4"/>
<circle cx="201.7" cy="297.9" r="1.6" fill="#1f77b4"/>
<circle cx="187.4" cy="304.1" r="1.6" fill="#1f77b4"/>
<circle cx="195.4" cy="303.5" r="1.6" fill="#1f77b4"/>
<circle cx="261.8" cy="305.9" r="1.6" fill="#1f77b4"/>
<circle cx="258.9" cy="309.8" r="1.6" fill="#1f77b4"/>
<circle cx="266.9" cy="311.3" r="1.6" fill="#1f77b4"/>
<circle cx="261.8" cy="314.8" r="1.6" fill="#1f77b4"/>
<circle cx="270.2" cy="318.2" r="1.6" fill="#1f77b4"/>
<circle cx="260.2" cy="322.0" r="1.6" fill="#1f77b4"/>
<circle cx="266.2" cy="321.0" r="1.6" fill="#1f77b4"/>
<circle cx="272.4" cy="325.5" r="1.6" fill="#1f77b4"/>
<circle cx="265.2" cy="329.1" r="1.6" fill="#1f77b4"/>
<circle cx="270.2" cy="332.0" r="1.6" fill="#1f77b4"/>
<circle cx="273.8" cy="338.9" r="1.6" fill="#1f77b4"/>
<circle cx="273.0" cy="342.3" r="1.6" fill="#1f77b4"/>
<circle cx="205.4" cy="366.6" r="1.6" fill="#1f77b4"/>
<circle cx="194.8" cy="374.9" r="1.6" fill="#1f77b4"/>
<circle cx="173.8" cy="374.3" r="1.6" fill="#1f77b4"/>
<circle cx="240.1" cy="374.3" r="1.6" fill="#1f77b4"/>
<circle cx="246.0" cy="374.9" r="1.6" fill="#1f77b4"/>
<circle cx="239.1" cy="381.4" r="1.6" fill="#1f77b4"/>
<circle cx="246.6" cy="382.1" r="1.6" fill="#1f77b4"/>
<circle cx="243.5" cy="387.5" r="1.6" fill="#1f77b4"/>
<circle cx="254.0" cy="397.9" r="1.6" fill="#1f77b4"/>
<circle cx="222.6" cy="391.4" r="1.6" fill="#1f77b4"/>
<circle cx="231.8" cy="397.9" r="1.6" fill="#1f77b4"/>
<circle cx="218.2" cy="399.3" r="1.6" fill="#1f77b4"/>
<circle cx="210.3" cy="401.8" r="1.6" fill="#1f77b4"/>
<circle cx="202.3" cy="402.3" r="1.6" fill="#1f77b4"/>
<circle cx="229.5" cy="404.2" r="1.6" fill="#1f77b4"/>
<circle cx="221.6" cy="411.1" r="1.6" fill="#1f77b4"/>
<circle cx="237.4" cy="410.4" r="1.6" fill="#1f77b4"/>
<circle cx="201.5" cy="411.7" r="1.6" fill="#1f77b4"/>
<circle cx="225.1" cy="418.6" r="1.6" fill="#1f77b4"/>
<circle cx="236.8" cy="419.0" r="1.6" fill="#1f77b4"/>
<circle cx="211.3" cy="420.0" r="1.6" fill="#1f77b4"/>
<circle cx="230.5" cy="424.0" r="1.6" fill="#1f77b4"/>
<circle cx="204.0" cy="425.0" r="1.6" fill="#1f77b4"/>
<circle cx="189.2" cy="408.2" r="1.6" fill="#1f77b4"/>
<circle cx="178.9" cy="410.5" r="1.6" fill="#1f77b4"/>
<circle cx="168.6" cy="414.2" r="1.6" fill="#1f77b4"/>
<circle cx="163.6" cy="419.9" r="1.6" fill="#1f77b4"/>
<circle cx="178.6" cy="421.2" r="1.6" fill="#1f77b4"/>
<circle cx="187.4" cy="420.5" r="1.6" fill="#1f77b4"/>
<circle cx="156.0" cy="423.9" r="1.6" fill="#1f77b4"/>
<circle cx="171.6" cy="429.2" r="1.6" fill="#1f77b4"/>
<circle cx="162.9" cy="430.2" r="1.6" fill="#1f77b4"/>
<circle cx="152.3" cy="431.7" r="1.6" fill="#1f77b4"/>
<circle cx="215.9" cy="431.1" r="1.6" fill="#1f77b4"/>
<circle cx="230.7" cy="431.4" r="1.6" fill="#1f77b4"/>
<circle cx="185.8" cy="433.1" r="1.6" fill="#1f77b4"/>
<circle cx="225.1" cy="433.7" r="1.6" fill="#1f77b4"/>
<circle cx="202.7" cy="435.0" r="1.6" fill="#1f77b4"/>
<circle cx="155.7" cy="436.1" r="1.6" fill="#1f77b4"/>
<circle cx="194.8" cy="437.5" r="1.6" fill="#1f77b4"/>
<circle cx="176.6" cy="438.4" r="1.6" fill="#1f77b4"/>
<circle cx="220.9" cy="439.4" r="1.6" fill="#1f77b4"/>
<circle cx="160.3" cy="440.2" r="1.6" fill="#1f77b4"/>
<circle cx="165.7" cy="441.1" r="1.6" fill="#1f77b4"/>
<circle cx="214.3" cy="441.1" r="1.6" fill="#1f77b4"/>
<circle cx="209.0" cy="444.3" r="1.6" fill="#1f77b4"/>
<circle cx="170.5" cy="445.5" r="1.6" fill="#1f77b4"/>
<circle cx="183.3" cy="445.3" r="1.6" fill="#1f77b4"/>
<circle cx="189.3" cy="446.1" r="1.6" fill="#1f77b4"/>
<circle cx="202.7" cy="446.5" r="1.6" fill="#1f77b4"/>
<circle cx="177.9" cy="448.5" r="1.6" fill="#1f77b4"/>
<circle cx="196.7" cy="448.5" r="1.6" fill="#1f77b4"/>
<circle cx="137.3" cy="416.5" r="1.6" fill="#1f77b4"/>
<circle cx="141.4" cy="414.7" r="1.6" fill="#1f77b4"/>
<circle cx="137.3" cy="419.7" r="1.6" fill="#1f77b4"/>
<circle cx="313.6" cy="373.0" r="1.6" fill="#1f77b4"/>
<circle cx="313.1" cy="379.6" r="1.6" fill="#1f77b4"/>
<circle cx="311.4" cy="386.3" r="1.6" fill="#1f77b4"/>
<circle cx="309.9" cy="393.1" r="1.6" fill="#1f77b4"/>
<circle cx="308.1" cy="399.1" r="1.6" fill="#1f77b4"/>
<circle cx="305.1" cy="405.9" r="1.6" fill="#1f77b4"/>
<circle cx="302.6" cy="412.7" r="1.6" fill="#1f77b4"/>
<circle cx="298.8" cy="419.7" r="1.6" fill="#1f77b4"/>
<circle cx="294.8" cy="426.8" r="1.6" fill="#1f77b4"/>
<circle cx="289.8" cy="434.8" r="1.6" fill="#1f77b4"/>
<circle cx="62.8" cy="326.3" r="1.6" fill="#1f77b4"/>
<circle cx="60.0" cy="338.1" r="1.6" fill="#1f77b4"/>
<circle cx="57.8" cy="350.9" r="1.6" fill="#1f77b4"/>
<circle cx="57.8" cy="362.2" r="1.6" fill="#1f77b4"/>
<circle cx="57.8" cy="371.5" r="1.6" fill="#1f77b4"/>
<circle cx="151.5" cy="305.5" r="1.6" fill="#1f77b4"/>
<circle cx="237.0" cy="332.3" r="1.6" fill="#1f77b4"/>
<circle cx="83.7" cy="341.2" r="1.6" fill="#1f77b4"/>
<circle cx="193.3" cy="415.8" r="1.6" fill="#1f77b4"/>
<circle cx="286.0" cy="398.9" r="1.6" fill="#1f77b4"/>
<path d="M151.5 305.5L184.4 280.7M151.5 305.5L173.7 281.6M151.5 305.5L163.4 283.2M151.5 305.5L181.6 286.3M151.5 305.5L170.3 286.9M151.5 305.5L151.5 287.6M151.5 305.5L158.6 289.5M151.5 305.5L147.1 292.6M151.5 305.5L179.3 294.5M151.5 305.5L139.6 296.6M151.5 305.5L161.8 296.6M151.5 305.5L147.7 300.4M151.5 305.5L168.7 301.1M151.5 305.5L127.9 305.4M151.5 305.5L132.9 305.4M151.5 305.5L139.6 306.7M151.5 305.5L176.0 306.0M151.5 305.5L152.7 309.9M151.5 305.5L183.5 313.3M151.5 305.5L125.5 314.8M151.5 305.5L162.8 315.4M151.5 305.5L172.8 316.2M151.5 305.5L136.7 316.4M151.5 305.5L119.7 320.6M151.5 305.5L152.7 321.5M151.5 305.5L128.6 322.7M151.5 305.5L164.4 324.9M151.5 305.5L140.2 325.6M151.5 305.5L122.3 330.5M151.5 305.5L149.3 330.3M151.5 305.5L119.8 332.6M83.7 341.2L119.8 332.6M151.5 305.5L113.5 340.5M83.7 341.2L113.5 340.5M151.5 305.5L143.7 337.2M151.5 305.5L134.9 339.2M151.5 305.5L120.5 340.5M151.5 305.5L128.9 344.5M151.5 305.5L120.5 347.4M151.5 305.5L113.5 350.1M151.5 305.5L123.7 354.9M151.5 305.5L113.0 357.1M151.5 305.5L116.4 360.4M151.5 305.5L194.8 282.2M151.5 305.5L191.2 285.9M151.5 305.5L204.0 288.8M151.5 305.5L199.6 291.1M151.5 305.5L190.6 294.5M151.5 305.5L201.7 297.9M151.5 305.5L187.4 304.1M151.5 305.5L195.4 303.5M237.0 332.3L261.8 305.9M237.0 332.3L258.9 309.8M237.0 332.3L266.9 311.3M237.0 332.3L261.8 314.8M237.0 332.3L270.2 318.2M237.0 332.3L260.2 322.0M237.0 332.3L266.2 321.0M237.0 332.3L272.4 325.5M237.0 332.3L265.2 329.1M237.0 332.3L270.2 332.0M237.0 332.3L273.8 338.9M286.0 398.9L273.8 338.9M237.0 332.3L273.0 342.3M286.0 398.9L273.0 342.3M151.5 305.5L205.4 366.6M237.0 332.3L205.4 366.6M193.3 415.8L205.4 366.6M286.0 398.9L205.4 366.6M151.5 305.5L194.8 374.9M193.3 415.8L194.8 374.9M286.0 398.9L194.8 374.9M151.5 305.5L173.8 374.3M193.3 415.8L173.8 374.3M237.0 332.3L240.1 374.3M193.3 415.8L240.1 374.3M237.0 332.3L246.0 374.9M193.3 415.8L246.0 374.9M237.0 332.3L239.1 381.4M193.3 415.8L239.1 381.4M237.0 332.3L246.6 382.1M193.3 415.8L246.6 382.1M237.0 332.3L243.5 387.5M193.3 415.8L243.5 387.5M237.0 332.3L254.0 397.9M193.3 415.8L254.0 397.9M286.0 398.9L254.0 397.9M193.3 415.8L222.6 391.4M193.3 415.8L231.8 397.9M193.3 415.8L218.2 399.3M193.3 415.8L210.3 401.8M193.3 415.8L202.3 402.3M193.3 415.8L229.5 404.2M193.3 415.8L221.6 411.1M193.3 415.8L237.4 410.4M193.3 415.8L201.5 411.7M193.3 415.8L225.1 418.6M193.3 415.8L236.8 419.0M193.3 415.8L211.3 420.0M193.3 415.8L230.5 424.0M193.3 415.8L204.0 425.0M193.3 415.8L189.2 408.2M193.3 415.8L178.9 410.5M193.3 415.8L168.6 414.2M193.3 415.8L163.6 419.9M193.3 415.8L178.6 421.2M193.3 415.8L187.4 420.5M193.3 415.8L156.0 423.9M193.3 415.8L171.6 429.2M193.3 415.8L162.9 430.2M193.3 415.8L152.3 431.7M193.3 415.8L215.9 431.1M193.3 415.8L230.7 431.4M193.3 415.8L185.8 433.1M193.3 415.8L225.1 433.7M193.3 415.8L202.7 435.0M193.3 415.8L155.7 436.1M193.3 415.8L194.8 437.5M193.3 415.8L176.6 438.4M193.3 415.8L220.9 439.4M193.3 415.8L160.3 440.2M193.3 415.8L165.7 441.1M193.3 415.8L214.3 441.1M193.3 415.8L209.0 444.3M193.3 415.8L170.5 445.5M193.3 415.8L183.3 445.3M193.3 415.8L189.3 446.1M193.3 415.8L202.7 446.5M193.3 415.8L177.9 448.5M193.3 415.8L196.7 448.5M83.7 341.2L137.3 416.5M193.3 415.8L137.3 416.5M83.7 341.2L141.4 414.7M193.3 415.8L141.4 414.7M83.7 341.2L137.3 419.7M193.3 415.8L137.3 419.7M286.0 398.9L313.6 373.0M286.0 398.9L313.1 379.6M286.0 398.9L311.4 386.3M286.0 398.9L309.9 393.1M286.0 398.9L308.1 399.1M286.0 398.9L305.1 405.9M286.0 398.9L302.6 412.7M286.0 398.9L298.8 419.7M286.0 398.9L294.8 426.8M286.0 398.9L289.8 434.8M83.7 341.2L62.8 326.3M83.7 341.2L60.0 338.1M83.7 341.2L57.8 350.9M83.7 341.2L57.8 362.2M83.7 341.2L57.8 371.5M151.5 305.5L237.0 332.3M237.0 332.3L193.3 415.8M237.0 332.3L286.0 398.9M193.3 415.8L286.0 398.9M193.6 416.4L286.0 399.5M151.5 305.5L193.3 415.8M151.9 305.5L193.8 415.8M237.5 332.3L193.9 415.8" fill="none" stroke="#7f7f7f" stroke-width="0.55" stroke-opacity="0.85"/>
</g>
<rect x="44.8" y="272.6" width="282.10" height="183.60" fill="none" stroke="#3a3a3a" stroke-width="0.95"/>
<path d="M56.5 456.2v2.7M98.3 456.2v2.7M140.1 456.2v2.7M181.9 456.2v2.7M223.6 456.2v2.7M265.4 456.2v2.7M307.1 456.2v2.7M44.8 275.2h-2.7M44.8 296.1h-2.7M44.8 317h-2.7M44.8 337.9h-2.7M44.8 358.8h-2.7M44.8 379.6h-2.7M44.8 400.5h-2.7M44.8 421.3h-2.7M44.8 442.1h-2.7" stroke="#2a2a2a" stroke-width="0.95" fill="none"/>
<clipPath id="kp3"><rect x="27.4" y="262.6" width="400" height="223.6"/></clipPath>
<g fill="#262626" font-size="7.9">
<text x="56.5" y="468.0" text-anchor="middle">−4</text>
<text x="98.3" y="468.0" text-anchor="middle">−3</text>
<text x="140.1" y="468.0" text-anchor="middle">−2</text>
<text x="181.9" y="468.0" text-anchor="middle">−1</text>
<text x="223.6" y="468.0" text-anchor="middle">0</text>
<text x="265.4" y="468.0" text-anchor="middle">1</text>
<text x="307.1" y="468.0" text-anchor="middle">2</text>
<text x="39.0" y="278.3" text-anchor="end">0.5</text>
<text x="39.0" y="299.2" text-anchor="end">0.0</text>
<text x="38.6" y="320.1" text-anchor="end" clip-path="url(#kp3)">−0.5</text>
<text x="38.6" y="341.0" text-anchor="end" clip-path="url(#kp3)">−1.0</text>
<text x="38.6" y="361.9" text-anchor="end" clip-path="url(#kp3)">−1.5</text>
<text x="38.6" y="382.7" text-anchor="end" clip-path="url(#kp3)">−2.0</text>
<text x="38.6" y="403.6" text-anchor="end" clip-path="url(#kp3)">−2.5</text>
<text x="38.6" y="424.4" text-anchor="end" clip-path="url(#kp3)">−3.0</text>
<text x="38.6" y="445.2" text-anchor="end" clip-path="url(#kp3)">−3.5</text>
</g>
<text x="185" y="477.7" text-anchor="middle" font-size="5.54" fill="#262626" stroke="#262626" stroke-width="0.18">Algorithm: Neural; Loss: RMSE=0.80; κ=1.00</text>
</g>
<g id="p4">
<clipPath id="cp4"><rect x="393.8" y="270.8" width="281.80" height="188.00"/></clipPath>
<g clip-path="url(#cp4)">
<circle cx="512.4" cy="279.2" r="1.6" fill="#1f77b4"/>
<circle cx="501.5" cy="280.3" r="1.6" fill="#1f77b4"/>
<circle cx="522.2" cy="280.9" r="1.6" fill="#1f77b4"/>
<circle cx="492.1" cy="281.9" r="1.6" fill="#1f77b4"/>
<circle cx="482.7" cy="286.9" r="1.6" fill="#1f77b4"/>
<circle cx="509.7" cy="287.6" r="1.6" fill="#1f77b4"/>
<circle cx="523.5" cy="289.2" r="1.6" fill="#1f77b4"/>
<circle cx="474.9" cy="290.3" r="1.6" fill="#1f77b4"/>
<circle cx="494.9" cy="289.8" r="1.6" fill="#1f77b4"/>
<circle cx="474.9" cy="297.0" r="1.6" fill="#1f77b4"/>
<circle cx="465.7" cy="299.9" r="1.6" fill="#1f77b4"/>
<circle cx="492.5" cy="299.9" r="1.6" fill="#1f77b4"/>
<circle cx="510.6" cy="298.9" r="1.6" fill="#1f77b4"/>
<circle cx="522.2" cy="303.9" r="1.6" fill="#1f77b4"/>
<circle cx="460.5" cy="307.0" r="1.6" fill="#1f77b4"/>
<circle cx="479.9" cy="307.4" r="1.6" fill="#1f77b4"/>
<circle cx="498.8" cy="309.9" r="1.6" fill="#1f77b4"/>
<circle cx="469.8" cy="314.2" r="1.6" fill="#1f77b4"/>
<circle cx="457.8" cy="316.1" r="1.6" fill="#1f77b4"/>
<circle cx="520.0" cy="319.3" r="1.6" fill="#1f77b4"/>
<circle cx="453.8" cy="324.0" r="1.6" fill="#1f77b4"/>
<circle cx="467.6" cy="325.2" r="1.6" fill="#1f77b4"/>
<circle cx="483.3" cy="324.9" r="1.6" fill="#1f77b4"/>
<circle cx="455.4" cy="333.2" r="1.6" fill="#1f77b4"/>
<circle cx="520.6" cy="334.5" r="1.6" fill="#1f77b4"/>
<circle cx="472.6" cy="336.3" r="1.6" fill="#1f77b4"/>
<circle cx="456.1" cy="341.1" r="1.6" fill="#1f77b4"/>
<circle cx="506.8" cy="340.5" r="1.6" fill="#1f77b4"/>
<circle cx="494.4" cy="344.5" r="1.6" fill="#1f77b4"/>
<circle cx="520.6" cy="346.6" r="1.6" fill="#1f77b4"/>
<circle cx="477.3" cy="347.4" r="1.6" fill="#1f77b4"/>
<circle cx="461.6" cy="348.9" r="1.6" fill="#1f77b4"/>
<circle cx="455.1" cy="357.7" r="1.6" fill="#1f77b4"/>
<circle cx="498.8" cy="358.3" r="1.6" fill="#1f77b4"/>
<circle cx="468.6" cy="363.3" r="1.6" fill="#1f77b4"/>
<circle cx="481.2" cy="363.7" r="1.6" fill="#1f77b4"/>
<circle cx="461.6" cy="366.1" r="1.6" fill="#1f77b4"/>
<circle cx="470.4" cy="372.8" r="1.6" fill="#1f77b4"/>
<circle cx="480.4" cy="373.4" r="1.6" fill="#1f77b4"/>
<circle cx="489.6" cy="372.4" r="1.6" fill="#1f77b4"/>
<circle cx="501.5" cy="376.1" r="1.6" fill="#1f77b4"/>
<circle cx="514.7" cy="363.3" r="1.6" fill="#1f77b4"/>
<circle cx="513.5" cy="370.5" r="1.6" fill="#1f77b4"/>
<circle cx="532.9" cy="284.2" r="1.6" fill="#1f77b4"/>
<circle cx="533.6" cy="292.2" r="1.6" fill="#1f77b4"/>
<circle cx="537.5" cy="298.2" r="1.6" fill="#1f77b4"/>
<circle cx="533.6" cy="310.2" r="1.6" fill="#1f77b4"/>
<circle cx="535.2" cy="320.6" r="1.6" fill="#1f77b4"/>
<circle cx="531.8" cy="330.5" r="1.6" fill="#1f77b4"/>
<circle cx="553.4" cy="298.2" r="1.6" fill="#1f77b4"/>
<circle cx="554.0" cy="303.5" r="1.6" fill="#1f77b4"/>
<circle cx="554.0" cy="310.4" r="1.6" fill="#1f77b4"/>
<circle cx="535.6" cy="357.3" r="1.6" fill="#1f77b4"/>
<circle cx="469.2" cy="377.9" r="1.6" fill="#1f77b4"/>
<circle cx="487.7" cy="383.5" r="1.6" fill="#1f77b4"/>
<circle cx="462.4" cy="410.4" r="1.6" fill="#1f77b4"/>
<circle cx="471.0" cy="419.0" r="1.6" fill="#1f77b4"/>
<circle cx="466.0" cy="418.5" r="1.6" fill="#1f77b4"/>
<circle cx="464.7" cy="431.0" r="1.6" fill="#1f77b4"/>
<circle cx="480.4" cy="429.8" r="1.6" fill="#1f77b4"/>
<circle cx="495.5" cy="433.3" r="1.6" fill="#1f77b4"/>
<circle cx="473.6" cy="438.3" r="1.6" fill="#1f77b4"/>
<circle cx="493.7" cy="442.3" r="1.6" fill="#1f77b4"/>
<circle cx="507.2" cy="441.1" r="1.6" fill="#1f77b4"/>
<circle cx="481.7" cy="443.9" r="1.6" fill="#1f77b4"/>
<circle cx="495.0" cy="450.2" r="1.6" fill="#1f77b4"/>
<circle cx="506.5" cy="449.6" r="1.6" fill="#1f77b4"/>
<circle cx="413.6" cy="325.1" r="1.6" fill="#1f77b4"/>
<circle cx="410.0" cy="337.1" r="1.6" fill="#1f77b4"/>
<circle cx="406.5" cy="348.4" r="1.6" fill="#1f77b4"/>
<circle cx="406.5" cy="361.0" r="1.6" fill="#1f77b4"/>
<circle cx="406.5" cy="373.3" r="1.6" fill="#1f77b4"/>
<circle cx="409.0" cy="386.6" r="1.6" fill="#1f77b4"/>
<circle cx="413.1" cy="397.4" r="1.6" fill="#1f77b4"/>
<circle cx="420.3" cy="405.9" r="1.6" fill="#1f77b4"/>
<circle cx="423.4" cy="414.0" r="1.6" fill="#1f77b4"/>
<circle cx="428.9" cy="422.2" r="1.6" fill="#1f77b4"/>
<circle cx="628.0" cy="287.6" r="1.6" fill="#1f77b4"/>
<circle cx="638.0" cy="297.7" r="1.6" fill="#1f77b4"/>
<circle cx="650.4" cy="313.2" r="1.6" fill="#1f77b4"/>
<circle cx="657.9" cy="332.3" r="1.6" fill="#1f77b4"/>
<circle cx="662.6" cy="362.7" r="1.6" fill="#1f77b4"/>
<circle cx="586.8" cy="327.9" r="1.6" fill="#1f77b4"/>
<circle cx="592.1" cy="333.6" r="1.6" fill="#1f77b4"/>
<circle cx="600.0" cy="332.6" r="1.6" fill="#1f77b4"/>
<circle cx="582.9" cy="337.6" r="1.6" fill="#1f77b4"/>
<circle cx="601.1" cy="341.1" r="1.6" fill="#1f77b4"/>
<circle cx="573.9" cy="343.2" r="1.6" fill="#1f77b4"/>
<circle cx="608.4" cy="347.9" r="1.6" fill="#1f77b4"/>
<circle cx="581.2" cy="350.1" r="1.6" fill="#1f77b4"/>
<circle cx="598.8" cy="351.0" r="1.6" fill="#1f77b4"/>
<circle cx="574.5" cy="359.3" r="1.6" fill="#1f77b4"/>
<circle cx="594.9" cy="362.1" r="1.6" fill="#1f77b4"/>
<circle cx="562.4" cy="366.7" r="1.6" fill="#1f77b4"/>
<circle cx="616.3" cy="368.7" r="1.6" fill="#1f77b4"/>
<circle cx="577.3" cy="372.4" r="1.6" fill="#1f77b4"/>
<circle cx="619.4" cy="378.0" r="1.6" fill="#1f77b4"/>
<circle cx="568.2" cy="382.0" r="1.6" fill="#1f77b4"/>
<circle cx="589.6" cy="381.3" r="1.6" fill="#1f77b4"/>
<circle cx="613.7" cy="358.0" r="1.6" fill="#1f77b4"/>
<circle cx="602.8" cy="366.7" r="1.6" fill="#1f77b4"/>
<circle cx="597.5" cy="373.6" r="1.6" fill="#1f77b4"/>
<circle cx="613.7" cy="384.5" r="1.6" fill="#1f77b4"/>
<circle cx="559.1" cy="387.2" r="1.6" fill="#1f77b4"/>
<circle cx="548.8" cy="389.5" r="1.6" fill="#1f77b4"/>
<circle cx="617.0" cy="391.1" r="1.6" fill="#1f77b4"/>
<circle cx="616.0" cy="398.5" r="1.6" fill="#1f77b4"/>
<circle cx="551.3" cy="400.1" r="1.6" fill="#1f77b4"/>
<circle cx="596.1" cy="401.8" r="1.6" fill="#1f77b4"/>
<circle cx="607.4" cy="402.4" r="1.6" fill="#1f77b4"/>
<circle cx="540.0" cy="408.9" r="1.6" fill="#1f77b4"/>
<circle cx="563.0" cy="408.6" r="1.6" fill="#1f77b4"/>
<circle cx="574.5" cy="409.8" r="1.6" fill="#1f77b4"/>
<circle cx="613.2" cy="409.3" r="1.6" fill="#1f77b4"/>
<circle cx="549.4" cy="414.0" r="1.6" fill="#1f77b4"/>
<circle cx="595.2" cy="415.6" r="1.6" fill="#1f77b4"/>
<circle cx="607.4" cy="417.4" r="1.6" fill="#1f77b4"/>
<circle cx="540.0" cy="420.2" r="1.6" fill="#1f77b4"/>
<circle cx="566.4" cy="423.0" r="1.6" fill="#1f77b4"/>
<circle cx="588.1" cy="424.6" r="1.6" fill="#1f77b4"/>
<circle cx="601.3" cy="424.0" r="1.6" fill="#1f77b4"/>
<circle cx="554.4" cy="427.0" r="1.6" fill="#1f77b4"/>
<circle cx="579.0" cy="428.6" r="1.6" fill="#1f77b4"/>
<circle cx="542.3" cy="429.5" r="1.6" fill="#1f77b4"/>
<circle cx="594.3" cy="432.3" r="1.6" fill="#1f77b4"/>
<circle cx="562.4" cy="436.2" r="1.6" fill="#1f77b4"/>
<circle cx="546.6" cy="437.3" r="1.6" fill="#1f77b4"/>
<circle cx="583.0" cy="437.3" r="1.6" fill="#1f77b4"/>
<circle cx="554.5" cy="441.1" r="1.6" fill="#1f77b4"/>
<circle cx="575.0" cy="440.6" r="1.6" fill="#1f77b4"/>
<circle cx="566.4" cy="442.9" r="1.6" fill="#1f77b4"/>
<circle cx="497.1" cy="325.2" r="1.6" fill="#1f77b4"/>
<circle cx="625.8" cy="339.3" r="1.6" fill="#1f77b4"/>
<circle cx="498.4" cy="409.2" r="1.6" fill="#1f77b4"/>
<circle cx="428.4" cy="371.3" r="1.6" fill="#1f77b4"/>
<circle cx="583.1" cy="397.0" r="1.6" fill="#1f77b4"/>
<path d="M497.1 325.2L512.4 279.2M497.1 325.2L501.5 280.3M497.1 325.2L522.2 280.9M497.1 325.2L492.1 281.9M497.1 325.2L482.7 286.9M497.1 325.2L509.7 287.6M497.1 325.2L523.5 289.2M497.1 325.2L474.9 290.3M497.1 325.2L494.9 289.8M497.1 325.2L474.9 297.0M497.1 325.2L465.7 299.9M497.1 325.2L492.5 299.9M497.1 325.2L510.6 298.9M497.1 325.2L522.2 303.9M497.1 325.2L460.5 307.0M497.1 325.2L479.9 307.4M497.1 325.2L498.8 309.9M497.1 325.2L469.8 314.2M497.1 325.2L457.8 316.1M497.1 325.2L520.0 319.3M497.1 325.2L453.8 324.0M497.1 325.2L467.6 325.2M497.1 325.2L483.3 324.9M497.1 325.2L455.4 333.2M497.1 325.2L520.6 334.5M497.1 325.2L472.6 336.3M497.1 325.2L456.1 341.1M497.1 325.2L506.8 340.5M497.1 325.2L494.4 344.5M497.1 325.2L520.6 346.6M497.1 325.2L477.3 347.4M497.1 325.2L461.6 348.9M428.4 371.3L461.6 348.9M497.1 325.2L455.1 357.7M428.4 371.3L455.1 357.7M497.1 325.2L498.8 358.3M498.4 409.2L498.8 358.3M497.1 325.2L468.6 363.3M498.4 409.2L468.6 363.3M497.1 325.2L481.2 363.7M498.4 409.2L481.2 363.7M497.1 325.2L461.6 366.1M498.4 409.2L461.6 366.1M497.1 325.2L470.4 372.8M498.4 409.2L470.4 372.8M497.1 325.2L480.4 373.4M498.4 409.2L480.4 373.4M497.1 325.2L489.6 372.4M498.4 409.2L489.6 372.4M497.1 325.2L501.5 376.1M498.4 409.2L501.5 376.1M497.1 325.2L514.7 363.3M428.4 371.3L514.7 363.3M583.1 397.0L514.7 363.3M497.1 325.2L513.5 370.5M428.4 371.3L513.5 370.5M583.1 397.0L513.5 370.5M497.1 325.2L532.9 284.2M497.1 325.2L533.6 292.2M497.1 325.2L537.5 298.2M497.1 325.2L533.6 310.2M497.1 325.2L535.2 320.6M497.1 325.2L531.8 330.5M497.1 325.2L553.4 298.2M625.8 339.3L553.4 298.2M497.1 325.2L554.0 303.5M625.8 339.3L554.0 303.5M497.1 325.2L554.0 310.4M625.8 339.3L554.0 310.4M497.1 325.2L535.6 357.3M583.1 397.0L535.6 357.3M497.1 325.2L469.2 377.9M498.4 409.2L469.2 377.9M497.1 325.2L487.7 383.5M498.4 409.2L487.7 383.5M428.4 371.3L462.4 410.4M498.4 409.2L462.4 410.4M428.4 371.3L471.0 419.0M498.4 409.2L471.0 419.0M498.4 409.2L466.0 418.5M498.4 409.2L464.7 431.0M498.4 409.2L480.4 429.8M498.4 409.2L495.5 433.3M498.4 409.2L473.6 438.3M498.4 409.2L493.7 442.3M498.4 409.2L507.2 441.1M498.4 409.2L481.7 443.9M498.4 409.2L495.0 450.2M498.4 409.2L506.5 449.6M428.4 371.3L413.6 325.1M428.4 371.3L410.0 337.1M428.4 371.3L406.5 348.4M428.4 371.3L406.5 361.0M428.4 371.3L406.5 373.3M428.4 371.3L409.0 386.6M428.4 371.3L413.1 397.4M428.4 371.3L420.3 405.9M428.4 371.3L423.4 414.0M428.4 371.3L428.9 422.2M625.8 339.3L628.0 287.6M625.8 339.3L638.0 297.7M625.8 339.3L650.4 313.2M625.8 339.3L657.9 332.3M625.8 339.3L662.6 362.7M583.1 397.0L586.8 327.9M583.1 397.0L592.1 333.6M583.1 397.0L600.0 332.6M583.1 397.0L582.9 337.6M583.1 397.0L601.1 341.1M583.1 397.0L573.9 343.2M583.1 397.0L608.4 347.9M583.1 397.0L581.2 350.1M583.1 397.0L598.8 351.0M583.1 397.0L574.5 359.3M583.1 397.0L594.9 362.1M583.1 397.0L562.4 366.7M583.1 397.0L616.3 368.7M583.1 397.0L577.3 372.4M583.1 397.0L619.4 378.0M583.1 397.0L568.2 382.0M583.1 397.0L589.6 381.3M625.8 339.3L613.7 358.0M583.1 397.0L613.7 358.0M625.8 339.3L602.8 366.7M583.1 397.0L602.8 366.7M625.8 339.3L597.5 373.6M583.1 397.0L597.5 373.6M583.1 397.0L613.7 384.5M583.1 397.0L559.1 387.2M583.1 397.0L548.8 389.5M583.1 397.0L617.0 391.1M583.1 397.0L616.0 398.5M583.1 397.0L551.3 400.1M583.1 397.0L596.1 401.8M583.1 397.0L607.4 402.4M583.1 397.0L540.0 408.9M583.1 397.0L563.0 408.6M583.1 397.0L574.5 409.8M583.1 397.0L613.2 409.3M583.1 397.0L549.4 414.0M583.1 397.0L595.2 415.6M583.1 397.0L607.4 417.4M583.1 397.0L540.0 420.2M583.1 397.0L566.4 423.0M583.1 397.0L588.1 424.6M583.1 397.0L601.3 424.0M583.1 397.0L554.4 427.0M583.1 397.0L579.0 428.6M583.1 397.0L542.3 429.5M583.1 397.0L594.3 432.3M583.1 397.0L562.4 436.2M583.1 397.0L546.6 437.3M583.1 397.0L583.0 437.3M583.1 397.0L554.5 441.1M583.1 397.0L575.0 440.6M583.1 397.0L566.4 442.9M497.1 325.2L498.4 409.2M497.1 325.2L428.4 371.3M497.1 325.2L583.1 397.0M498.4 409.2L428.4 371.3M498.4 409.2L583.1 397.0M625.8 339.3L583.1 397.0M497.6 325.6L583.6 397.4" fill="none" stroke="#7f7f7f" stroke-width="0.55" stroke-opacity="0.85"/>
</g>
<rect x="393.8" y="270.8" width="281.80" height="188.00" fill="none" stroke="#3a3a3a" stroke-width="0.95"/>
<path d="M397.8 458.8v2.7M438.1 458.8v2.7M478.4 458.8v2.7M518.6 458.8v2.7M558.7 458.8v2.7M598.9 458.8v2.7M639.1 458.8v2.7M393.8 272.1h-2.7M393.8 312.4h-2.7M393.8 352.7h-2.7M393.8 392.9h-2.7M393.8 433.1h-2.7" stroke="#2a2a2a" stroke-width="0.95" fill="none"/>
<g fill="#262626" font-size="7.9">
<text x="397.8" y="470.6" text-anchor="middle">−3</text>
<text x="438.1" y="470.6" text-anchor="middle">−2</text>
<text x="478.4" y="470.6" text-anchor="middle">−1</text>
<text x="518.6" y="470.6" text-anchor="middle">0</text>
<text x="558.7" y="470.6" text-anchor="middle">1</text>
<text x="598.9" y="470.6" text-anchor="middle">2</text>
<text x="639.1" y="470.6" text-anchor="middle">3</text>
<text x="388.0" y="275.2" text-anchor="end">4</text>
<text x="388.0" y="315.5" text-anchor="end">3</text>
<text x="388.0" y="355.8" text-anchor="end">2</text>
<text x="388.0" y="396.0" text-anchor="end">1</text>
<text x="388.0" y="436.2" text-anchor="end">0</text>
</g>
<text x="535" y="479.7" text-anchor="middle" font-size="5.54" fill="#262626" stroke="#262626" stroke-width="0.18">Algorithm: Neural; Loss: RMRSE=0.34; κ=1.00</text>
</g>
<g id="p5">
<clipPath id="cp5"><rect x="84.7" y="510.0" width="202.60" height="209.50"/></clipPath>
<g clip-path="url(#cp5)">
<circle cx="148.3" cy="571.7" r="1.6" fill="#1f77b4"/>
<circle cx="144.9" cy="572.3" r="1.6" fill="#1f77b4"/>
<circle cx="151.5" cy="573.4" r="1.6" fill="#1f77b4"/>
<circle cx="142.4" cy="573.8" r="1.6" fill="#1f77b4"/>
<circle cx="147.4" cy="575.3" r="1.6" fill="#1f77b4"/>
<circle cx="139.2" cy="576.1" r="1.6" fill="#1f77b4"/>
<circle cx="136.5" cy="578.6" r="1.6" fill="#1f77b4"/>
<circle cx="128.3" cy="582.2" r="1.6" fill="#1f77b4"/>
<circle cx="133.6" cy="582.4" r="1.6" fill="#1f77b4"/>
<circle cx="129.4" cy="586.6" r="1.6" fill="#1f77b4"/>
<circle cx="117.0" cy="588.2" r="1.6" fill="#1f77b4"/>
<circle cx="122.0" cy="589.2" r="1.6" fill="#1f77b4"/>
<circle cx="120.0" cy="590.5" r="1.6" fill="#1f77b4"/>
<circle cx="107.8" cy="595.1" r="1.6" fill="#1f77b4"/>
<circle cx="116.6" cy="594.3" r="1.6" fill="#1f77b4"/>
<circle cx="114.1" cy="596.4" r="1.6" fill="#1f77b4"/>
<circle cx="107.6" cy="599.9" r="1.6" fill="#1f77b4"/>
<circle cx="104.7" cy="601.2" r="1.6" fill="#1f77b4"/>
<circle cx="103.2" cy="602.4" r="1.6" fill="#1f77b4"/>
<circle cx="115.8" cy="601.8" r="1.6" fill="#1f77b4"/>
<circle cx="108.2" cy="603.6" r="1.6" fill="#1f77b4"/>
<circle cx="105.3" cy="606.2" r="1.6" fill="#1f77b4"/>
<circle cx="109.5" cy="607.3" r="1.6" fill="#1f77b4"/>
<circle cx="98.8" cy="608.1" r="1.6" fill="#1f77b4"/>
<circle cx="107.8" cy="609.6" r="1.6" fill="#1f77b4"/>
<circle cx="95.3" cy="614.0" r="1.6" fill="#1f77b4"/>
<circle cx="100.3" cy="613.4" r="1.6" fill="#1f77b4"/>
<circle cx="96.3" cy="617.4" r="1.6" fill="#1f77b4"/>
<circle cx="94.7" cy="619.0" r="1.6" fill="#1f77b4"/>
<circle cx="97.2" cy="619.6" r="1.6" fill="#1f77b4"/>
<circle cx="93.8" cy="620.9" r="1.6" fill="#1f77b4"/>
<circle cx="99.1" cy="620.9" r="1.6" fill="#1f77b4"/>
<circle cx="99.1" cy="622.6" r="1.6" fill="#1f77b4"/>
<circle cx="94.7" cy="623.9" r="1.6" fill="#1f77b4"/>
<circle cx="94.3" cy="627.6" r="1.6" fill="#1f77b4"/>
<circle cx="136.7" cy="647.5" r="1.6" fill="#1f77b4"/>
<circle cx="139.1" cy="661.5" r="1.6" fill="#1f77b4"/>
<circle cx="141.3" cy="705.1" r="1.6" fill="#1f77b4"/>
<circle cx="145.7" cy="707.4" r="1.6" fill="#1f77b4"/>
<circle cx="149.2" cy="708.3" r="1.6" fill="#1f77b4"/>
<circle cx="152.6" cy="707.7" r="1.6" fill="#1f77b4"/>
<circle cx="155.7" cy="708.7" r="1.6" fill="#1f77b4"/>
<circle cx="160.1" cy="704.1" r="1.6" fill="#1f77b4"/>
<circle cx="160.7" cy="707.0" r="1.6" fill="#1f77b4"/>
<circle cx="162.0" cy="710.2" r="1.6" fill="#1f77b4"/>
<circle cx="163.2" cy="708.7" r="1.6" fill="#1f77b4"/>
<circle cx="165.8" cy="709.5" r="1.6" fill="#1f77b4"/>
<circle cx="167.9" cy="707.7" r="1.6" fill="#1f77b4"/>
<circle cx="169.9" cy="705.1" r="1.6" fill="#1f77b4"/>
<circle cx="173.3" cy="709.5" r="1.6" fill="#1f77b4"/>
<circle cx="177.1" cy="705.8" r="1.6" fill="#1f77b4"/>
<circle cx="188.4" cy="700.8" r="1.6" fill="#1f77b4"/>
<circle cx="189.2" cy="705.5" r="1.6" fill="#1f77b4"/>
<circle cx="195.6" cy="700.8" r="1.6" fill="#1f77b4"/>
<circle cx="194.0" cy="703.3" r="1.6" fill="#1f77b4"/>
<circle cx="200.3" cy="702.4" r="1.6" fill="#1f77b4"/>
<circle cx="201.5" cy="699.1" r="1.6" fill="#1f77b4"/>
<circle cx="204.1" cy="696.7" r="1.6" fill="#1f77b4"/>
<circle cx="207.8" cy="701.4" r="1.6" fill="#1f77b4"/>
<circle cx="211.8" cy="699.8" r="1.6" fill="#1f77b4"/>
<circle cx="211.0" cy="697.0" r="1.6" fill="#1f77b4"/>
<circle cx="214.1" cy="691.3" r="1.6" fill="#1f77b4"/>
<circle cx="217.2" cy="687.6" r="1.6" fill="#1f77b4"/>
<circle cx="225.5" cy="682.0" r="1.6" fill="#1f77b4"/>
<circle cx="226.4" cy="684.8" r="1.6" fill="#1f77b4"/>
<circle cx="230.2" cy="685.5" r="1.6" fill="#1f77b4"/>
<circle cx="232.7" cy="685.5" r="1.6" fill="#1f77b4"/>
<circle cx="233.0" cy="682.9" r="1.6" fill="#1f77b4"/>
<circle cx="223.5" cy="693.3" r="1.6" fill="#1f77b4"/>
<circle cx="239.8" cy="675.7" r="1.6" fill="#1f77b4"/>
<circle cx="240.8" cy="678.5" r="1.6" fill="#1f77b4"/>
<circle cx="237.1" cy="674.7" r="1.6" fill="#1f77b4"/>
<circle cx="238.9" cy="677.6" r="1.6" fill="#1f77b4"/>
<circle cx="237.7" cy="679.1" r="1.6" fill="#1f77b4"/>
<circle cx="275.7" cy="668.2" r="1.6" fill="#1f77b4"/>
<circle cx="277.5" cy="667.9" r="1.6" fill="#1f77b4"/>
<circle cx="276.6" cy="670.7" r="1.6" fill="#1f77b4"/>
<circle cx="276.0" cy="672.6" r="1.6" fill="#1f77b4"/>
<circle cx="184.2" cy="519.4" r="1.6" fill="#1f77b4"/>
<circle cx="185.5" cy="518.8" r="1.6" fill="#1f77b4"/>
<circle cx="187.0" cy="520.0" r="1.6" fill="#1f77b4"/>
<circle cx="188.9" cy="520.4" r="1.6" fill="#1f77b4"/>
<circle cx="190.4" cy="520.3" r="1.6" fill="#1f77b4"/>
<circle cx="193.3" cy="521.9" r="1.6" fill="#1f77b4"/>
<circle cx="196.2" cy="521.7" r="1.6" fill="#1f77b4"/>
<circle cx="183.9" cy="560.5" r="1.6" fill="#1f77b4"/>
<circle cx="173.8" cy="566.8" r="1.6" fill="#1f77b4"/>
<circle cx="182.3" cy="567.8" r="1.6" fill="#1f77b4"/>
<circle cx="179.5" cy="568.6" r="1.6" fill="#1f77b4"/>
<circle cx="185.2" cy="569.4" r="1.6" fill="#1f77b4"/>
<circle cx="243.6" cy="568.0" r="1.6" fill="#1f77b4"/>
<circle cx="246.2" cy="569.7" r="1.6" fill="#1f77b4"/>
<circle cx="250.2" cy="576.4" r="1.6" fill="#1f77b4"/>
<circle cx="252.7" cy="579.5" r="1.6" fill="#1f77b4"/>
<circle cx="254.2" cy="582.3" r="1.6" fill="#1f77b4"/>
<circle cx="207.5" cy="584.1" r="1.6" fill="#1f77b4"/>
<circle cx="210.3" cy="585.8" r="1.6" fill="#1f77b4"/>
<circle cx="189.5" cy="619.5" r="1.6" fill="#1f77b4"/>
<circle cx="126.7" cy="607.4" r="1.6" fill="#1f77b4"/>
<circle cx="194.3" cy="533.7" r="1.6" fill="#1f77b4"/>
<circle cx="245.4" cy="595.8" r="1.6" fill="#1f77b4"/>
<circle cx="200.2" cy="701.1" r="1.6" fill="#1f77b4"/>
<circle cx="269.7" cy="676.6" r="1.6" fill="#1f77b4"/>
<path d="M126.7 607.4L148.3 571.7M126.7 607.4L144.9 572.3M126.7 607.4L151.5 573.4M126.7 607.4L142.4 573.8M126.7 607.4L147.4 575.3M126.7 607.4L139.2 576.1M126.7 607.4L136.5 578.6M126.7 607.4L128.3 582.2M126.7 607.4L133.6 582.4M126.7 607.4L129.4 586.6M126.7 607.4L117.0 588.2M126.7 607.4L122.0 589.2M126.7 607.4L120.0 590.5M126.7 607.4L107.8 595.1M126.7 607.4L116.6 594.3M126.7 607.4L114.1 596.4M126.7 607.4L107.6 599.9M126.7 607.4L104.7 601.2M126.7 607.4L103.2 602.4M126.7 607.4L115.8 601.8M126.7 607.4L108.2 603.6M126.7 607.4L105.3 606.2M126.7 607.4L109.5 607.3M126.7 607.4L98.8 608.1M126.7 607.4L107.8 609.6M126.7 607.4L95.3 614.0M126.7 607.4L100.3 613.4M126.7 607.4L96.3 617.4M126.7 607.4L94.7 619.0M126.7 607.4L97.2 619.6M126.7 607.4L93.8 620.9M126.7 607.4L99.1 620.9M126.7 607.4L99.1 622.6M126.7 607.4L94.7 623.9M126.7 607.4L94.3 627.6M126.7 607.4L136.7 647.5M194.3 533.7L136.7 647.5M200.2 701.1L136.7 647.5M126.7 607.4L139.1 661.5M200.2 701.1L139.1 661.5M200.2 701.1L141.3 705.1M200.2 701.1L145.7 707.4M200.2 701.1L149.2 708.3M200.2 701.1L152.6 707.7M200.2 701.1L155.7 708.7M200.2 701.1L160.1 704.1M200.2 701.1L160.7 707.0M200.2 701.1L162.0 710.2M200.2 701.1L163.2 708.7M200.2 701.1L165.8 709.5M200.2 701.1L167.9 707.7M200.2 701.1L169.9 705.1M200.2 701.1L173.3 709.5M200.2 701.1L177.1 705.8M200.2 701.1L188.4 700.8M200.2 701.1L189.2 705.5M200.2 701.1L195.6 700.8M200.2 701.1L194.0 703.3M200.2 701.1L200.3 702.4M200.2 701.1L201.5 699.1M200.2 701.1L204.1 696.7M200.2 701.1L207.8 701.4M200.2 701.1L211.8 699.8M200.2 701.1L211.0 697.0M200.2 701.1L214.1 691.3M200.2 701.1L217.2 687.6M200.2 701.1L225.5 682.0M200.2 701.1L226.4 684.8M200.2 701.1L230.2 685.5M200.2 701.1L232.7 685.5M200.2 701.1L233.0 682.9M200.2 701.1L223.5 693.3M269.7 676.6L223.5 693.3M200.2 701.1L239.8 675.7M269.7 676.6L239.8 675.7M200.2 701.1L240.8 678.5M269.7 676.6L240.8 678.5M200.2 701.1L237.1 674.7M200.2 701.1L238.9 677.6M200.2 701.1L237.7 679.1M269.7 676.6L275.7 668.2M269.7 676.6L277.5 667.9M269.7 676.6L276.6 670.7M269.7 676.6L276.0 672.6M194.3 533.7L184.2 519.4M194.3 533.7L185.5 518.8M194.3 533.7L187.0 520.0M194.3 533.7L188.9 520.4M194.3 533.7L190.4 520.3M194.3 533.7L193.3 521.9M194.3 533.7L196.2 521.7M194.3 533.7L183.9 560.5M245.4 595.8L183.9 560.5M126.7 607.4L173.8 566.8M194.3 533.7L173.8 566.8M245.4 595.8L173.8 566.8M126.7 607.4L182.3 567.8M194.3 533.7L182.3 567.8M245.4 595.8L182.3 567.8M126.7 607.4L179.5 568.6M245.4 595.8L179.5 568.6M126.7 607.4L185.2 569.4M245.4 595.8L185.2 569.4M194.3 533.7L243.6 568.0M245.4 595.8L243.6 568.0M194.3 533.7L246.2 569.7M245.4 595.8L246.2 569.7M245.4 595.8L250.2 576.4M245.4 595.8L252.7 579.5M245.4 595.8L254.2 582.3M126.7 607.4L207.5 584.1M269.7 676.6L207.5 584.1M126.7 607.4L210.3 585.8M269.7 676.6L210.3 585.8M126.7 607.4L189.5 619.5M194.3 533.7L189.5 619.5M245.4 595.8L189.5 619.5M200.2 701.1L189.5 619.5M126.7 607.4L194.3 533.7M194.3 533.7L245.4 595.8M126.7 607.4L245.4 595.8M126.7 607.4L200.2 701.1M245.4 595.8L200.2 701.1M194.3 533.7L189.5 619.5" fill="none" stroke="#7f7f7f" stroke-width="0.55" stroke-opacity="0.85"/>
</g>
<rect x="84.7" y="510.0" width="202.60" height="209.50" fill="none" stroke="#3a3a3a" stroke-width="0.95"/>
<path d="M112.6 719.5v2.7M150.9 719.5v2.7M189.1 719.5v2.7M227.4 719.5v2.7M265.7 719.5v2.7M84.7 514.1h-2.7M84.7 552.5h-2.7M84.7 590.8h-2.7M84.7 629h-2.7M84.7 667.5h-2.7M84.7 706.1h-2.7" stroke="#2a2a2a" stroke-width="0.95" fill="none"/>
<g fill="#262626" font-size="7.9">
<text x="112.6" y="731.3" text-anchor="middle">−2.0</text>
<text x="150.9" y="731.3" text-anchor="middle">−1.5</text>
<text x="189.1" y="731.3" text-anchor="middle">−1.0</text>
<text x="227.4" y="731.3" text-anchor="middle">−0.5</text>
<text x="265.7" y="731.3" text-anchor="middle">0.0</text>
<text x="78.9" y="517.2" text-anchor="end">1.5</text>
<text x="78.9" y="555.6" text-anchor="end">1.0</text>
<text x="78.9" y="593.9" text-anchor="end">0.5</text>
<text x="78.9" y="632.1" text-anchor="end">0.0</text>
<text x="78.9" y="670.6" text-anchor="end">−0.5</text>
<text x="78.9" y="709.2" text-anchor="end">−1.0</text>
</g>
<text x="186" y="740.7" text-anchor="middle" font-size="5.54" fill="#262626" stroke="#262626" stroke-width="0.18">Algorithm: Neural; Loss: RMSE=1.21; κ=1.50</text>
</g>
<g id="p6">
<clipPath id="cp6"><rect x="413.7" y="510.0" width="242.20" height="209.50"/></clipPath>
<g clip-path="url(#cp6)">
<circle cx="493.2" cy="521.7" r="1.6" fill="#1f77b4"/>
<circle cx="496.7" cy="520.1" r="1.6" fill="#1f77b4"/>
<circle cx="499.5" cy="520.3" r="1.6" fill="#1f77b4"/>
<circle cx="502.4" cy="518.8" r="1.6" fill="#1f77b4"/>
<circle cx="503.9" cy="520.7" r="1.6" fill="#1f77b4"/>
<circle cx="500.7" cy="522.0" r="1.6" fill="#1f77b4"/>
<circle cx="500.1" cy="523.6" r="1.6" fill="#1f77b4"/>
<circle cx="503.2" cy="524.8" r="1.6" fill="#1f77b4"/>
<circle cx="504.5" cy="526.3" r="1.6" fill="#1f77b4"/>
<circle cx="513.0" cy="527.4" r="1.6" fill="#1f77b4"/>
<circle cx="516.4" cy="529.5" r="1.6" fill="#1f77b4"/>
<circle cx="518.3" cy="524.2" r="1.6" fill="#1f77b4"/>
<circle cx="524.8" cy="527.6" r="1.6" fill="#1f77b4"/>
<circle cx="513.9" cy="533.5" r="1.6" fill="#1f77b4"/>
<circle cx="526.8" cy="532.4" r="1.6" fill="#1f77b4"/>
<circle cx="526.8" cy="534.9" r="1.6" fill="#1f77b4"/>
<circle cx="538.6" cy="537.6" r="1.6" fill="#1f77b4"/>
<circle cx="544.3" cy="539.9" r="1.6" fill="#1f77b4"/>
<circle cx="549.4" cy="541.7" r="1.6" fill="#1f77b4"/>
<circle cx="594.8" cy="539.5" r="1.6" fill="#1f77b4"/>
<circle cx="597.1" cy="543.5" r="1.6" fill="#1f77b4"/>
<circle cx="564.5" cy="547.3" r="1.6" fill="#1f77b4"/>
<circle cx="566.0" cy="546.7" r="1.6" fill="#1f77b4"/>
<circle cx="567.0" cy="550.8" r="1.6" fill="#1f77b4"/>
<circle cx="569.1" cy="554.8" r="1.6" fill="#1f77b4"/>
<circle cx="572.6" cy="555.0" r="1.6" fill="#1f77b4"/>
<circle cx="576.1" cy="553.3" r="1.6" fill="#1f77b4"/>
<circle cx="582.9" cy="560.6" r="1.6" fill="#1f77b4"/>
<circle cx="586.4" cy="561.2" r="1.6" fill="#1f77b4"/>
<circle cx="587.3" cy="559.8" r="1.6" fill="#1f77b4"/>
<circle cx="590.5" cy="559.0" r="1.6" fill="#1f77b4"/>
<circle cx="594.8" cy="567.4" r="1.6" fill="#1f77b4"/>
<circle cx="599.0" cy="564.4" r="1.6" fill="#1f77b4"/>
<circle cx="601.5" cy="568.0" r="1.6" fill="#1f77b4"/>
<circle cx="608.0" cy="569.4" r="1.6" fill="#1f77b4"/>
<circle cx="608.4" cy="571.1" r="1.6" fill="#1f77b4"/>
<circle cx="609.3" cy="573.7" r="1.6" fill="#1f77b4"/>
<circle cx="611.4" cy="574.0" r="1.6" fill="#1f77b4"/>
<circle cx="611.8" cy="575.9" r="1.6" fill="#1f77b4"/>
<circle cx="611.8" cy="577.8" r="1.6" fill="#1f77b4"/>
<circle cx="631.2" cy="537.8" r="1.6" fill="#1f77b4"/>
<circle cx="641.2" cy="545.1" r="1.6" fill="#1f77b4"/>
<circle cx="642.8" cy="546.0" r="1.6" fill="#1f77b4"/>
<circle cx="644.7" cy="545.7" r="1.6" fill="#1f77b4"/>
<circle cx="438.6" cy="575.1" r="1.6" fill="#1f77b4"/>
<circle cx="440.1" cy="576.7" r="1.6" fill="#1f77b4"/>
<circle cx="441.6" cy="575.7" r="1.6" fill="#1f77b4"/>
<circle cx="444.7" cy="581.0" r="1.6" fill="#1f77b4"/>
<circle cx="447.6" cy="583.5" r="1.6" fill="#1f77b4"/>
<circle cx="434.5" cy="605.0" r="1.6" fill="#1f77b4"/>
<circle cx="526.6" cy="613.3" r="1.6" fill="#1f77b4"/>
<circle cx="534.6" cy="627.6" r="1.6" fill="#1f77b4"/>
<circle cx="575.2" cy="612.2" r="1.6" fill="#1f77b4"/>
<circle cx="470.5" cy="662.4" r="1.6" fill="#1f77b4"/>
<circle cx="467.0" cy="632.2" r="1.6" fill="#1f77b4"/>
<circle cx="467.6" cy="638.2" r="1.6" fill="#1f77b4"/>
<circle cx="469.5" cy="637.4" r="1.6" fill="#1f77b4"/>
<circle cx="468.9" cy="641.4" r="1.6" fill="#1f77b4"/>
<circle cx="466.3" cy="633.8" r="1.6" fill="#1f77b4"/>
<circle cx="459.8" cy="634.1" r="1.6" fill="#1f77b4"/>
<circle cx="461.1" cy="636.1" r="1.6" fill="#1f77b4"/>
<circle cx="464.2" cy="634.2" r="1.6" fill="#1f77b4"/>
<circle cx="470.7" cy="641.4" r="1.6" fill="#1f77b4"/>
<circle cx="476.4" cy="644.2" r="1.6" fill="#1f77b4"/>
<circle cx="476.0" cy="645.8" r="1.6" fill="#1f77b4"/>
<circle cx="485.2" cy="644.1" r="1.6" fill="#1f77b4"/>
<circle cx="490.2" cy="644.8" r="1.6" fill="#1f77b4"/>
<circle cx="487.9" cy="649.5" r="1.6" fill="#1f77b4"/>
<circle cx="504.0" cy="656.8" r="1.6" fill="#1f77b4"/>
<circle cx="524.4" cy="661.7" r="1.6" fill="#1f77b4"/>
<circle cx="526.9" cy="664.0" r="1.6" fill="#1f77b4"/>
<circle cx="520.3" cy="668.6" r="1.6" fill="#1f77b4"/>
<circle cx="530.1" cy="669.6" r="1.6" fill="#1f77b4"/>
<circle cx="500.6" cy="656.0" r="1.6" fill="#1f77b4"/>
<circle cx="507.4" cy="656.8" r="1.6" fill="#1f77b4"/>
<circle cx="514.7" cy="661.7" r="1.6" fill="#1f77b4"/>
<circle cx="537.4" cy="672.9" r="1.6" fill="#1f77b4"/>
<circle cx="538.9" cy="671.7" r="1.6" fill="#1f77b4"/>
<circle cx="543.0" cy="676.8" r="1.6" fill="#1f77b4"/>
<circle cx="544.8" cy="678.3" r="1.6" fill="#1f77b4"/>
<circle cx="551.1" cy="675.4" r="1.6" fill="#1f77b4"/>
<circle cx="552.3" cy="680.0" r="1.6" fill="#1f77b4"/>
<circle cx="555.2" cy="679.2" r="1.6" fill="#1f77b4"/>
<circle cx="559.4" cy="678.9" r="1.6" fill="#1f77b4"/>
<circle cx="563.4" cy="681.7" r="1.6" fill="#1f77b4"/>
<circle cx="567.4" cy="681.5" r="1.6" fill="#1f77b4"/>
<circle cx="569.0" cy="682.5" r="1.6" fill="#1f77b4"/>
<circle cx="568.4" cy="686.5" r="1.6" fill="#1f77b4"/>
<circle cx="572.2" cy="685.6" r="1.6" fill="#1f77b4"/>
<circle cx="573.8" cy="687.1" r="1.6" fill="#1f77b4"/>
<circle cx="575.9" cy="683.3" r="1.6" fill="#1f77b4"/>
<circle cx="577.8" cy="684.3" r="1.6" fill="#1f77b4"/>
<circle cx="574.7" cy="685.2" r="1.6" fill="#1f77b4"/>
<circle cx="596.0" cy="641.9" r="1.6" fill="#1f77b4"/>
<circle cx="597.7" cy="642.2" r="1.6" fill="#1f77b4"/>
<circle cx="424.2" cy="686.0" r="1.6" fill="#1f77b4"/>
<circle cx="429.5" cy="690.3" r="1.6" fill="#1f77b4"/>
<circle cx="434.0" cy="693.5" r="1.6" fill="#1f77b4"/>
<circle cx="447.1" cy="699.1" r="1.6" fill="#1f77b4"/>
<circle cx="448.6" cy="700.8" r="1.6" fill="#1f77b4"/>
<circle cx="456.1" cy="705.9" r="1.6" fill="#1f77b4"/>
<circle cx="465.4" cy="710.4" r="1.6" fill="#1f77b4"/>
<circle cx="469.4" cy="710.4" r="1.6" fill="#1f77b4"/>
<circle cx="555.3" cy="536.0" r="1.6" fill="#1f77b4"/>
<circle cx="464.3" cy="575.2" r="1.6" fill="#1f77b4"/>
<circle cx="629.0" cy="535.2" r="1.6" fill="#1f77b4"/>
<circle cx="535.8" cy="655.2" r="1.6" fill="#1f77b4"/>
<circle cx="452.2" cy="684.8" r="1.6" fill="#1f77b4"/>
<path d="M555.3 536.0L493.2 521.7M555.3 536.0L496.7 520.1M555.3 536.0L499.5 520.3M555.3 536.0L502.4 518.8M555.3 536.0L503.9 520.7M555.3 536.0L500.7 522.0M555.3 536.0L500.1 523.6M555.3 536.0L503.2 524.8M555.3 536.0L504.5 526.3M555.3 536.0L513.0 527.4M555.3 536.0L516.4 529.5M555.3 536.0L518.3 524.2M555.3 536.0L524.8 527.6M555.3 536.0L513.9 533.5M555.3 536.0L526.8 532.4M555.3 536.0L526.8 534.9M555.3 536.0L538.6 537.6M555.3 536.0L544.3 539.9M555.3 536.0L549.4 541.7M555.3 536.0L594.8 539.5M629.0 535.2L594.8 539.5M555.3 536.0L597.1 543.5M629.0 535.2L597.1 543.5M555.3 536.0L564.5 547.3M555.3 536.0L566.0 546.7M555.3 536.0L567.0 550.8M555.3 536.0L569.1 554.8M555.3 536.0L572.6 555.0M555.3 536.0L576.1 553.3M555.3 536.0L582.9 560.6M555.3 536.0L586.4 561.2M555.3 536.0L587.3 559.8M555.3 536.0L590.5 559.0M555.3 536.0L594.8 567.4M555.3 536.0L599.0 564.4M555.3 536.0L601.5 568.0M555.3 536.0L608.0 569.4M555.3 536.0L608.4 571.1M555.3 536.0L609.3 573.7M555.3 536.0L611.4 574.0M555.3 536.0L611.8 575.9M555.3 536.0L611.8 577.8M629.0 535.2L631.2 537.8M629.0 535.2L641.2 545.1M629.0 535.2L642.8 546.0M629.0 535.2L644.7 545.7M464.3 575.2L438.6 575.1M464.3 575.2L440.1 576.7M464.3 575.2L441.6 575.7M464.3 575.2L444.7 581.0M464.3 575.2L447.6 583.5M464.3 575.2L434.5 605.0M452.2 684.8L434.5 605.0M555.3 536.0L526.6 613.3M464.3 575.2L526.6 613.3M535.8 655.2L526.6 613.3M452.2 684.8L526.6 613.3M555.3 536.0L534.6 627.6M535.8 655.2L534.6 627.6M452.2 684.8L534.6 627.6M555.3 536.0L575.2 612.2M535.8 655.2L575.2 612.2M464.3 575.2L470.5 662.4M535.8 655.2L470.5 662.4M452.2 684.8L470.5 662.4M464.3 575.2L467.0 632.2M535.8 655.2L467.0 632.2M464.3 575.2L467.6 638.2M535.8 655.2L467.6 638.2M464.3 575.2L469.5 637.4M535.8 655.2L469.5 637.4M464.3 575.2L468.9 641.4M535.8 655.2L468.9 641.4M464.3 575.2L466.3 633.8M535.8 655.2L466.3 633.8M535.8 655.2L459.8 634.1M535.8 655.2L461.1 636.1M535.8 655.2L464.2 634.2M535.8 655.2L470.7 641.4M535.8 655.2L476.4 644.2M535.8 655.2L476.0 645.8M535.8 655.2L485.2 644.1M535.8 655.2L490.2 644.8M535.8 655.2L487.9 649.5M535.8 655.2L504.0 656.8M535.8 655.2L524.4 661.7M535.8 655.2L526.9 664.0M535.8 655.2L520.3 668.6M535.8 655.2L530.1 669.6M535.8 655.2L500.6 656.0M452.2 684.8L500.6 656.0M535.8 655.2L507.4 656.8M452.2 684.8L507.4 656.8M535.8 655.2L514.7 661.7M452.2 684.8L514.7 661.7M535.8 655.2L537.4 672.9M535.8 655.2L538.9 671.7M535.8 655.2L543.0 676.8M535.8 655.2L544.8 678.3M535.8 655.2L551.1 675.4M535.8 655.2L552.3 680.0M535.8 655.2L555.2 679.2M535.8 655.2L559.4 678.9M535.8 655.2L563.4 681.7M535.8 655.2L567.4 681.5M535.8 655.2L569.0 682.5M535.8 655.2L568.4 686.5M535.8 655.2L572.2 685.6M535.8 655.2L573.8 687.1M535.8 655.2L575.9 683.3M535.8 655.2L577.8 684.3M535.8 655.2L574.7 685.2M629.0 535.2L596.0 641.9M535.8 655.2L596.0 641.9M629.0 535.2L597.7 642.2M535.8 655.2L597.7 642.2M452.2 684.8L424.2 686.0M452.2 684.8L429.5 690.3M452.2 684.8L434.0 693.5M452.2 684.8L447.1 699.1M452.2 684.8L448.6 700.8M452.2 684.8L456.1 705.9M452.2 684.8L465.4 710.4M452.2 684.8L469.4 710.4M555.3 536.0L464.3 575.2M555.3 536.0L629.0 535.2M555.3 536.0L535.8 655.2M464.3 575.2L535.8 655.2M464.3 575.2L452.2 684.8M535.8 655.2L452.2 684.8M629.5 535.4L597.0 642.4M536.2 655.4L597.0 642.4M555.8 536.2L536.3 655.2" fill="none" stroke="#7f7f7f" stroke-width="0.55" stroke-opacity="0.85"/>
</g>
<rect x="413.7" y="510.0" width="242.20" height="209.50" fill="none" stroke="#3a3a3a" stroke-width="0.95"/>
<path d="M421 719.5v2.7M455.2 719.5v2.7M489.3 719.5v2.7M523.3 719.5v2.7M557.4 719.5v2.7M591.5 719.5v2.7M625.6 719.5v2.7M413.7 526.7h-2.7M413.7 560.8h-2.7M413.7 595h-2.7M413.7 629h-2.7M413.7 663.2h-2.7M413.7 697.4h-2.7" stroke="#2a2a2a" stroke-width="0.95" fill="none"/>
<g fill="#262626" font-size="7.9">
<text x="421" y="731.3" text-anchor="middle">−1.5</text>
<text x="455.2" y="731.3" text-anchor="middle">−1.0</text>
<text x="489.3" y="731.3" text-anchor="middle">−0.5</text>
<text x="523.3" y="731.3" text-anchor="middle">0.0</text>
<text x="557.4" y="731.3" text-anchor="middle">0.5</text>
<text x="591.5" y="731.3" text-anchor="middle">1.0</text>
<text x="625.6" y="731.3" text-anchor="middle">1.5</text>
<text x="407.9" y="529.8" text-anchor="end">0.5</text>
<text x="407.9" y="563.9" text-anchor="end">0.0</text>
<text x="407.9" y="598.1" text-anchor="end">−0.5</text>
<text x="407.9" y="632.1" text-anchor="end">−1.0</text>
<text x="407.9" y="666.3" text-anchor="end">−1.5</text>
<text x="407.9" y="700.5" text-anchor="end">−2.0</text>
</g>
<text x="535" y="740.7" text-anchor="middle" font-size="5.54" fill="#262626" stroke="#262626" stroke-width="0.18">Algorithm: Neural; Loss: RMRSE=0.47; κ=1.50</text>
</g>
</svg>
</body></html>
